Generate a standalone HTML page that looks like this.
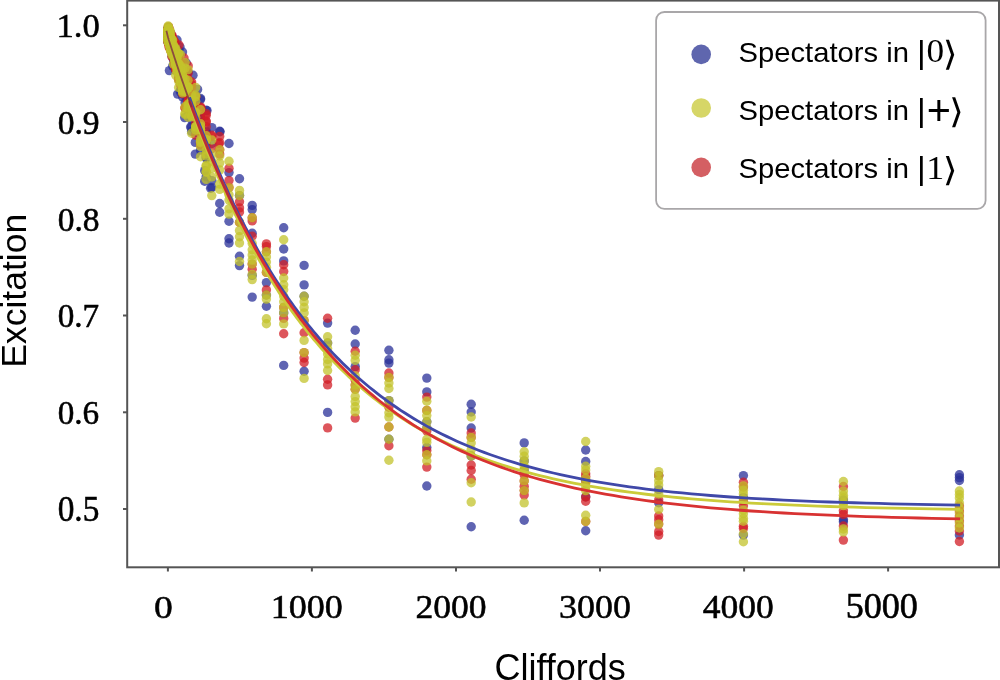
<!DOCTYPE html>
<html><head><meta charset="utf-8"><title>Excitation vs Cliffords</title>
<style>
html,body{margin:0;padding:0;background:#fff;}
body{width:1000px;height:680px;overflow:hidden;}
svg{display:block;}
</style></head><body>
<svg width="1000" height="680" viewBox="0 0 1000 680">
<rect x="0" y="0" width="1000" height="680" fill="#fff"/>
<g>

<g fill="#2a3098" fill-opacity="0.75">
<circle cx="168.0" cy="34.4" r="4.7"/>
<circle cx="168.0" cy="32.1" r="4.7"/>
<circle cx="168.0" cy="34.3" r="4.7"/>
<circle cx="168.0" cy="34.6" r="4.7"/>
<circle cx="168.0" cy="36.4" r="4.7"/>
<circle cx="168.0" cy="34.3" r="4.7"/>
<circle cx="168.0" cy="30.4" r="4.7"/>
<circle cx="168.0" cy="32.4" r="4.7"/>
<circle cx="168.0" cy="30.6" r="4.7"/>
<circle cx="168.0" cy="32.9" r="4.7"/>
<circle cx="168.0" cy="32.5" r="4.7"/>
<circle cx="168.1" cy="34.1" r="4.7"/>
<circle cx="168.1" cy="31.9" r="4.7"/>
<circle cx="168.1" cy="33.0" r="4.7"/>
<circle cx="168.1" cy="35.1" r="4.7"/>
<circle cx="168.1" cy="36.6" r="4.7"/>
<circle cx="168.1" cy="35.3" r="4.7"/>
<circle cx="168.1" cy="30.1" r="4.7"/>
<circle cx="168.1" cy="36.2" r="4.7"/>
<circle cx="168.1" cy="33.0" r="4.7"/>
<circle cx="168.1" cy="32.5" r="4.7"/>
<circle cx="168.1" cy="38.2" r="4.7"/>
<circle cx="168.1" cy="30.0" r="4.7"/>
<circle cx="168.1" cy="39.9" r="4.7"/>
<circle cx="168.1" cy="38.2" r="4.7"/>
<circle cx="168.1" cy="33.1" r="4.7"/>
<circle cx="168.1" cy="29.6" r="4.7"/>
<circle cx="168.1" cy="32.1" r="4.7"/>
<circle cx="168.1" cy="39.5" r="4.7"/>
<circle cx="168.1" cy="41.4" r="4.7"/>
<circle cx="168.1" cy="32.8" r="4.7"/>
<circle cx="168.1" cy="36.1" r="4.7"/>
<circle cx="168.1" cy="37.2" r="4.7"/>
<circle cx="168.1" cy="34.4" r="4.7"/>
<circle cx="168.1" cy="33.0" r="4.7"/>
<circle cx="168.1" cy="32.0" r="4.7"/>
<circle cx="168.1" cy="33.6" r="4.7"/>
<circle cx="168.1" cy="30.5" r="4.7"/>
<circle cx="168.1" cy="36.0" r="4.7"/>
<circle cx="168.1" cy="35.2" r="4.7"/>
<circle cx="168.1" cy="30.9" r="4.7"/>
<circle cx="168.1" cy="33.9" r="4.7"/>
<circle cx="168.1" cy="36.6" r="4.7"/>
<circle cx="168.1" cy="31.1" r="4.7"/>
<circle cx="168.2" cy="31.8" r="4.7"/>
<circle cx="168.2" cy="32.4" r="4.7"/>
<circle cx="168.2" cy="28.1" r="4.7"/>
<circle cx="168.2" cy="33.1" r="4.7"/>
<circle cx="168.2" cy="35.4" r="4.7"/>
<circle cx="168.2" cy="35.2" r="4.7"/>
<circle cx="168.2" cy="34.2" r="4.7"/>
<circle cx="168.2" cy="31.3" r="4.7"/>
<circle cx="168.2" cy="35.1" r="4.7"/>
<circle cx="168.2" cy="33.0" r="4.7"/>
<circle cx="168.2" cy="28.6" r="4.7"/>
<circle cx="168.2" cy="29.8" r="4.7"/>
<circle cx="168.2" cy="39.5" r="4.7"/>
<circle cx="168.2" cy="35.4" r="4.7"/>
<circle cx="168.2" cy="35.3" r="4.7"/>
<circle cx="168.2" cy="32.4" r="4.7"/>
<circle cx="168.2" cy="31.0" r="4.7"/>
<circle cx="168.2" cy="42.4" r="4.7"/>
<circle cx="168.2" cy="31.0" r="4.7"/>
<circle cx="168.2" cy="38.7" r="4.7"/>
<circle cx="168.2" cy="32.2" r="4.7"/>
<circle cx="168.2" cy="38.8" r="4.7"/>
<circle cx="168.3" cy="37.6" r="4.7"/>
<circle cx="168.3" cy="39.0" r="4.7"/>
<circle cx="168.3" cy="30.6" r="4.7"/>
<circle cx="168.3" cy="32.2" r="4.7"/>
<circle cx="168.3" cy="30.0" r="4.7"/>
<circle cx="168.3" cy="37.4" r="4.7"/>
<circle cx="168.3" cy="34.5" r="4.7"/>
<circle cx="168.3" cy="38.0" r="4.7"/>
<circle cx="168.3" cy="32.2" r="4.7"/>
<circle cx="168.3" cy="29.6" r="4.7"/>
<circle cx="168.3" cy="37.2" r="4.7"/>
<circle cx="168.3" cy="35.9" r="4.7"/>
<circle cx="168.3" cy="40.4" r="4.7"/>
<circle cx="168.3" cy="32.2" r="4.7"/>
<circle cx="168.3" cy="33.8" r="4.7"/>
<circle cx="168.3" cy="36.6" r="4.7"/>
<circle cx="168.3" cy="34.8" r="4.7"/>
<circle cx="168.3" cy="32.2" r="4.7"/>
<circle cx="168.3" cy="34.5" r="4.7"/>
<circle cx="168.3" cy="30.6" r="4.7"/>
<circle cx="168.3" cy="34.9" r="4.7"/>
<circle cx="168.3" cy="31.5" r="4.7"/>
<circle cx="168.4" cy="40.1" r="4.7"/>
<circle cx="168.4" cy="36.9" r="4.7"/>
<circle cx="168.4" cy="31.9" r="4.7"/>
<circle cx="168.4" cy="32.5" r="4.7"/>
<circle cx="168.4" cy="35.0" r="4.7"/>
<circle cx="168.4" cy="32.5" r="4.7"/>
<circle cx="168.4" cy="34.5" r="4.7"/>
<circle cx="168.4" cy="38.7" r="4.7"/>
<circle cx="168.4" cy="39.9" r="4.7"/>
<circle cx="168.4" cy="37.0" r="4.7"/>
<circle cx="168.4" cy="32.1" r="4.7"/>
<circle cx="168.5" cy="33.2" r="4.7"/>
<circle cx="168.5" cy="33.9" r="4.7"/>
<circle cx="168.5" cy="41.9" r="4.7"/>
<circle cx="168.5" cy="32.5" r="4.7"/>
<circle cx="168.5" cy="31.2" r="4.7"/>
<circle cx="168.5" cy="36.3" r="4.7"/>
<circle cx="168.5" cy="36.8" r="4.7"/>
<circle cx="168.5" cy="29.2" r="4.7"/>
<circle cx="168.5" cy="40.9" r="4.7"/>
<circle cx="168.5" cy="33.8" r="4.7"/>
<circle cx="168.5" cy="27.7" r="4.7"/>
<circle cx="168.6" cy="33.7" r="4.7"/>
<circle cx="168.6" cy="34.2" r="4.7"/>
<circle cx="168.6" cy="30.3" r="4.7"/>
<circle cx="168.6" cy="34.3" r="4.7"/>
<circle cx="168.6" cy="35.9" r="4.7"/>
<circle cx="168.6" cy="34.0" r="4.7"/>
<circle cx="168.6" cy="41.9" r="4.7"/>
<circle cx="168.6" cy="32.4" r="4.7"/>
<circle cx="168.6" cy="34.7" r="4.7"/>
<circle cx="168.6" cy="37.9" r="4.7"/>
<circle cx="168.6" cy="31.5" r="4.7"/>
<circle cx="168.7" cy="36.5" r="4.7"/>
<circle cx="168.7" cy="34.6" r="4.7"/>
<circle cx="168.7" cy="34.9" r="4.7"/>
<circle cx="168.7" cy="34.1" r="4.7"/>
<circle cx="168.7" cy="35.5" r="4.7"/>
<circle cx="168.7" cy="37.2" r="4.7"/>
<circle cx="168.7" cy="33.6" r="4.7"/>
<circle cx="168.7" cy="36.0" r="4.7"/>
<circle cx="168.7" cy="38.8" r="4.7"/>
<circle cx="168.7" cy="38.2" r="4.7"/>
<circle cx="168.7" cy="36.1" r="4.7"/>
<circle cx="168.9" cy="39.2" r="4.7"/>
<circle cx="168.9" cy="34.9" r="4.7"/>
<circle cx="168.9" cy="35.0" r="4.7"/>
<circle cx="168.9" cy="36.1" r="4.7"/>
<circle cx="168.9" cy="31.8" r="4.7"/>
<circle cx="168.9" cy="34.3" r="4.7"/>
<circle cx="168.9" cy="36.7" r="4.7"/>
<circle cx="168.9" cy="34.7" r="4.7"/>
<circle cx="168.9" cy="31.2" r="4.7"/>
<circle cx="168.9" cy="33.4" r="4.7"/>
<circle cx="168.9" cy="33.3" r="4.7"/>
<circle cx="169.0" cy="37.2" r="4.7"/>
<circle cx="169.0" cy="34.4" r="4.7"/>
<circle cx="169.0" cy="35.4" r="4.7"/>
<circle cx="169.0" cy="36.5" r="4.7"/>
<circle cx="169.0" cy="37.0" r="4.7"/>
<circle cx="169.0" cy="38.1" r="4.7"/>
<circle cx="169.0" cy="34.9" r="4.7"/>
<circle cx="169.0" cy="40.8" r="4.7"/>
<circle cx="169.0" cy="39.3" r="4.7"/>
<circle cx="169.0" cy="37.2" r="4.7"/>
<circle cx="169.0" cy="42.2" r="4.7"/>
<circle cx="169.2" cy="40.1" r="4.7"/>
<circle cx="169.2" cy="42.8" r="4.7"/>
<circle cx="169.2" cy="37.8" r="4.7"/>
<circle cx="169.2" cy="37.1" r="4.7"/>
<circle cx="169.2" cy="35.7" r="4.7"/>
<circle cx="169.2" cy="35.5" r="4.7"/>
<circle cx="169.2" cy="32.8" r="4.7"/>
<circle cx="169.2" cy="33.9" r="4.7"/>
<circle cx="169.2" cy="42.4" r="4.7"/>
<circle cx="169.2" cy="39.7" r="4.7"/>
<circle cx="169.2" cy="41.6" r="4.7"/>
<circle cx="169.5" cy="43.6" r="4.7"/>
<circle cx="169.5" cy="39.6" r="4.7"/>
<circle cx="169.5" cy="39.8" r="4.7"/>
<circle cx="169.5" cy="37.1" r="4.7"/>
<circle cx="169.5" cy="36.6" r="4.7"/>
<circle cx="169.5" cy="38.9" r="4.7"/>
<circle cx="169.5" cy="41.7" r="4.7"/>
<circle cx="169.5" cy="39.2" r="4.7"/>
<circle cx="169.5" cy="39.0" r="4.7"/>
<circle cx="169.5" cy="36.1" r="4.7"/>
<circle cx="169.5" cy="37.7" r="4.7"/>
<circle cx="169.7" cy="36.9" r="4.7"/>
<circle cx="169.7" cy="36.2" r="4.7"/>
<circle cx="169.7" cy="37.8" r="4.7"/>
<circle cx="169.7" cy="40.2" r="4.7"/>
<circle cx="169.7" cy="37.8" r="4.7"/>
<circle cx="169.7" cy="43.6" r="4.7"/>
<circle cx="169.7" cy="35.4" r="4.7"/>
<circle cx="169.7" cy="43.4" r="4.7"/>
<circle cx="169.7" cy="38.8" r="4.7"/>
<circle cx="169.7" cy="31.9" r="4.7"/>
<circle cx="169.7" cy="40.5" r="4.7"/>
<circle cx="170.1" cy="37.7" r="4.7"/>
<circle cx="170.1" cy="41.0" r="4.7"/>
<circle cx="170.1" cy="39.6" r="4.7"/>
<circle cx="170.1" cy="35.0" r="4.7"/>
<circle cx="170.1" cy="36.5" r="4.7"/>
<circle cx="170.1" cy="42.7" r="4.7"/>
<circle cx="170.1" cy="32.1" r="4.7"/>
<circle cx="170.1" cy="40.8" r="4.7"/>
<circle cx="170.1" cy="37.8" r="4.7"/>
<circle cx="170.1" cy="43.2" r="4.7"/>
<circle cx="170.1" cy="40.9" r="4.7"/>
<circle cx="170.4" cy="39.0" r="4.7"/>
<circle cx="170.4" cy="42.5" r="4.7"/>
<circle cx="170.4" cy="43.9" r="4.7"/>
<circle cx="170.4" cy="44.8" r="4.7"/>
<circle cx="170.4" cy="45.7" r="4.7"/>
<circle cx="170.4" cy="43.4" r="4.7"/>
<circle cx="170.4" cy="40.9" r="4.7"/>
<circle cx="170.4" cy="40.0" r="4.7"/>
<circle cx="170.4" cy="39.8" r="4.7"/>
<circle cx="170.4" cy="33.8" r="4.7"/>
<circle cx="170.4" cy="44.8" r="4.7"/>
<circle cx="170.9" cy="43.9" r="4.7"/>
<circle cx="170.9" cy="49.3" r="4.7"/>
<circle cx="170.9" cy="43.6" r="4.7"/>
<circle cx="170.9" cy="41.6" r="4.7"/>
<circle cx="170.9" cy="45.7" r="4.7"/>
<circle cx="170.9" cy="43.9" r="4.7"/>
<circle cx="170.9" cy="40.4" r="4.7"/>
<circle cx="170.9" cy="47.1" r="4.7"/>
<circle cx="170.9" cy="40.9" r="4.7"/>
<circle cx="170.9" cy="35.9" r="4.7"/>
<circle cx="170.9" cy="45.8" r="4.7"/>
<circle cx="171.4" cy="50.5" r="4.7"/>
<circle cx="171.4" cy="43.8" r="4.7"/>
<circle cx="171.4" cy="37.9" r="4.7"/>
<circle cx="171.4" cy="43.3" r="4.7"/>
<circle cx="171.4" cy="44.1" r="4.7"/>
<circle cx="171.4" cy="35.6" r="4.7"/>
<circle cx="171.4" cy="47.4" r="4.7"/>
<circle cx="171.4" cy="48.1" r="4.7"/>
<circle cx="171.4" cy="42.9" r="4.7"/>
<circle cx="171.4" cy="42.8" r="4.7"/>
<circle cx="171.4" cy="49.6" r="4.7"/>
<circle cx="172.0" cy="47.1" r="4.7"/>
<circle cx="172.0" cy="50.2" r="4.7"/>
<circle cx="172.0" cy="45.5" r="4.7"/>
<circle cx="172.0" cy="52.3" r="4.7"/>
<circle cx="172.0" cy="56.2" r="4.7"/>
<circle cx="172.0" cy="47.0" r="4.7"/>
<circle cx="172.0" cy="46.0" r="4.7"/>
<circle cx="172.0" cy="49.7" r="4.7"/>
<circle cx="172.0" cy="43.1" r="4.7"/>
<circle cx="172.0" cy="48.4" r="4.7"/>
<circle cx="172.0" cy="49.9" r="4.7"/>
<circle cx="172.7" cy="48.4" r="4.7"/>
<circle cx="172.7" cy="48.2" r="4.7"/>
<circle cx="172.7" cy="44.9" r="4.7"/>
<circle cx="172.7" cy="47.6" r="4.7"/>
<circle cx="172.7" cy="41.4" r="4.7"/>
<circle cx="172.7" cy="55.4" r="4.7"/>
<circle cx="172.7" cy="51.3" r="4.7"/>
<circle cx="172.7" cy="66.1" r="4.7"/>
<circle cx="172.7" cy="45.5" r="4.7"/>
<circle cx="172.7" cy="51.2" r="4.7"/>
<circle cx="172.7" cy="45.0" r="4.7"/>
<circle cx="173.5" cy="43.7" r="4.7"/>
<circle cx="173.5" cy="50.3" r="4.7"/>
<circle cx="173.5" cy="47.4" r="4.7"/>
<circle cx="173.5" cy="51.0" r="4.7"/>
<circle cx="173.5" cy="52.8" r="4.7"/>
<circle cx="173.5" cy="60.1" r="4.7"/>
<circle cx="173.5" cy="47.0" r="4.7"/>
<circle cx="173.5" cy="51.9" r="4.7"/>
<circle cx="173.5" cy="53.5" r="4.7"/>
<circle cx="173.5" cy="50.2" r="4.7"/>
<circle cx="173.5" cy="51.6" r="4.7"/>
<circle cx="174.5" cy="58.3" r="4.7"/>
<circle cx="174.5" cy="52.3" r="4.7"/>
<circle cx="174.5" cy="60.9" r="4.7"/>
<circle cx="174.5" cy="52.3" r="4.7"/>
<circle cx="174.5" cy="51.9" r="4.7"/>
<circle cx="174.5" cy="56.6" r="4.7"/>
<circle cx="174.5" cy="52.1" r="4.7"/>
<circle cx="174.5" cy="63.7" r="4.7"/>
<circle cx="174.5" cy="50.8" r="4.7"/>
<circle cx="174.5" cy="63.7" r="4.7"/>
<circle cx="174.5" cy="58.9" r="4.7"/>
<circle cx="175.7" cy="52.3" r="4.7"/>
<circle cx="175.7" cy="65.1" r="4.7"/>
<circle cx="175.7" cy="64.7" r="4.7"/>
<circle cx="175.7" cy="58.7" r="4.7"/>
<circle cx="175.7" cy="70.2" r="4.7"/>
<circle cx="175.7" cy="60.1" r="4.7"/>
<circle cx="175.7" cy="61.2" r="4.7"/>
<circle cx="175.7" cy="55.8" r="4.7"/>
<circle cx="175.7" cy="62.8" r="4.7"/>
<circle cx="175.7" cy="63.9" r="4.7"/>
<circle cx="175.7" cy="60.9" r="4.7"/>
<circle cx="177.0" cy="59.4" r="4.7"/>
<circle cx="177.0" cy="59.6" r="4.7"/>
<circle cx="177.0" cy="53.9" r="4.7"/>
<circle cx="177.0" cy="64.0" r="4.7"/>
<circle cx="177.0" cy="56.8" r="4.7"/>
<circle cx="177.0" cy="65.2" r="4.7"/>
<circle cx="177.0" cy="57.7" r="4.7"/>
<circle cx="177.0" cy="67.9" r="4.7"/>
<circle cx="177.0" cy="63.2" r="4.7"/>
<circle cx="177.0" cy="51.1" r="4.7"/>
<circle cx="177.0" cy="59.6" r="4.7"/>
<circle cx="178.6" cy="61.5" r="4.7"/>
<circle cx="178.6" cy="69.1" r="4.7"/>
<circle cx="178.6" cy="69.5" r="4.7"/>
<circle cx="178.6" cy="61.3" r="4.7"/>
<circle cx="178.6" cy="57.6" r="4.7"/>
<circle cx="178.6" cy="72.0" r="4.7"/>
<circle cx="178.6" cy="63.9" r="4.7"/>
<circle cx="178.6" cy="73.4" r="4.7"/>
<circle cx="178.6" cy="50.4" r="4.7"/>
<circle cx="178.6" cy="70.6" r="4.7"/>
<circle cx="178.6" cy="58.5" r="4.7"/>
<circle cx="180.4" cy="78.8" r="4.7"/>
<circle cx="180.4" cy="65.5" r="4.7"/>
<circle cx="180.4" cy="68.4" r="4.7"/>
<circle cx="180.4" cy="67.2" r="4.7"/>
<circle cx="180.4" cy="90.3" r="4.7"/>
<circle cx="180.4" cy="74.7" r="4.7"/>
<circle cx="180.4" cy="65.2" r="4.7"/>
<circle cx="180.4" cy="66.5" r="4.7"/>
<circle cx="180.4" cy="65.3" r="4.7"/>
<circle cx="180.4" cy="91.9" r="4.7"/>
<circle cx="180.4" cy="71.0" r="4.7"/>
<circle cx="182.6" cy="73.7" r="4.7"/>
<circle cx="182.6" cy="81.3" r="4.7"/>
<circle cx="182.6" cy="97.0" r="4.7"/>
<circle cx="182.6" cy="67.4" r="4.7"/>
<circle cx="182.6" cy="75.5" r="4.7"/>
<circle cx="182.6" cy="78.3" r="4.7"/>
<circle cx="182.6" cy="80.8" r="4.7"/>
<circle cx="182.6" cy="76.1" r="4.7"/>
<circle cx="182.6" cy="82.1" r="4.7"/>
<circle cx="182.6" cy="87.4" r="4.7"/>
<circle cx="182.6" cy="84.9" r="4.7"/>
<circle cx="185.1" cy="88.6" r="4.7"/>
<circle cx="185.1" cy="86.0" r="4.7"/>
<circle cx="185.1" cy="88.5" r="4.7"/>
<circle cx="185.1" cy="88.9" r="4.7"/>
<circle cx="185.1" cy="87.6" r="4.7"/>
<circle cx="185.1" cy="102.8" r="4.7"/>
<circle cx="185.1" cy="89.1" r="4.7"/>
<circle cx="185.1" cy="86.0" r="4.7"/>
<circle cx="185.1" cy="95.4" r="4.7"/>
<circle cx="185.1" cy="86.0" r="4.7"/>
<circle cx="185.1" cy="80.7" r="4.7"/>
<circle cx="188.1" cy="94.6" r="4.7"/>
<circle cx="188.1" cy="92.0" r="4.7"/>
<circle cx="188.1" cy="85.9" r="4.7"/>
<circle cx="188.1" cy="103.9" r="4.7"/>
<circle cx="188.1" cy="94.6" r="4.7"/>
<circle cx="188.1" cy="87.4" r="4.7"/>
<circle cx="188.1" cy="92.6" r="4.7"/>
<circle cx="188.1" cy="80.5" r="4.7"/>
<circle cx="188.1" cy="72.2" r="4.7"/>
<circle cx="188.1" cy="104.3" r="4.7"/>
<circle cx="188.1" cy="115.5" r="4.7"/>
<circle cx="191.6" cy="104.1" r="4.7"/>
<circle cx="191.6" cy="107.9" r="4.7"/>
<circle cx="191.6" cy="99.9" r="4.7"/>
<circle cx="191.6" cy="112.6" r="4.7"/>
<circle cx="191.6" cy="126.9" r="4.7"/>
<circle cx="191.6" cy="131.4" r="4.7"/>
<circle cx="191.6" cy="119.7" r="4.7"/>
<circle cx="191.6" cy="113.4" r="4.7"/>
<circle cx="191.6" cy="104.2" r="4.7"/>
<circle cx="191.6" cy="103.2" r="4.7"/>
<circle cx="191.6" cy="97.0" r="4.7"/>
<circle cx="195.7" cy="107.0" r="4.7"/>
<circle cx="195.7" cy="98.4" r="4.7"/>
<circle cx="195.7" cy="103.6" r="4.7"/>
<circle cx="195.7" cy="98.0" r="4.7"/>
<circle cx="195.7" cy="132.8" r="4.7"/>
<circle cx="195.7" cy="124.0" r="4.7"/>
<circle cx="195.7" cy="108.6" r="4.7"/>
<circle cx="195.7" cy="94.7" r="4.7"/>
<circle cx="195.7" cy="113.5" r="4.7"/>
<circle cx="195.7" cy="127.1" r="4.7"/>
<circle cx="195.7" cy="120.0" r="4.7"/>
<circle cx="200.5" cy="132.0" r="4.7"/>
<circle cx="200.5" cy="116.1" r="4.7"/>
<circle cx="200.5" cy="98.5" r="4.7"/>
<circle cx="200.5" cy="118.4" r="4.7"/>
<circle cx="200.5" cy="122.8" r="4.7"/>
<circle cx="200.5" cy="150.1" r="4.7"/>
<circle cx="200.5" cy="99.6" r="4.7"/>
<circle cx="200.5" cy="126.4" r="4.7"/>
<circle cx="200.5" cy="128.0" r="4.7"/>
<circle cx="200.5" cy="143.8" r="4.7"/>
<circle cx="200.5" cy="128.4" r="4.7"/>
<circle cx="206.2" cy="131.2" r="4.7"/>
<circle cx="206.2" cy="143.1" r="4.7"/>
<circle cx="206.2" cy="176.7" r="4.7"/>
<circle cx="206.2" cy="142.1" r="4.7"/>
<circle cx="206.2" cy="154.7" r="4.7"/>
<circle cx="206.2" cy="132.3" r="4.7"/>
<circle cx="206.2" cy="150.6" r="4.7"/>
<circle cx="206.2" cy="139.6" r="4.7"/>
<circle cx="206.2" cy="110.2" r="4.7"/>
<circle cx="206.2" cy="157.0" r="4.7"/>
<circle cx="206.2" cy="158.1" r="4.7"/>
<circle cx="169.4" cy="70.6" r="4.7"/>
<circle cx="177.6" cy="94.1" r="4.7"/>
<circle cx="184.7" cy="117.6" r="4.7"/>
<circle cx="190.6" cy="127.0" r="4.7"/>
<circle cx="195.3" cy="142.4" r="4.7"/>
<circle cx="195.3" cy="154.1" r="4.7"/>
<circle cx="204.7" cy="170.6" r="4.7"/>
<circle cx="204.7" cy="181.2" r="4.7"/>
<circle cx="210.6" cy="188.2" r="4.7"/>
<circle cx="180.0" cy="47.0" r="4.7"/>
<circle cx="193.0" cy="75.3" r="4.7"/>
<circle cx="197.6" cy="89.4" r="4.7"/>
<circle cx="207.0" cy="110.6" r="4.7"/>
<circle cx="220.0" cy="131.8" r="4.7"/>
<circle cx="177.0" cy="40.0" r="4.7"/>
<circle cx="182.5" cy="52.0" r="4.7"/>
<circle cx="186.3" cy="63.0" r="4.7"/>
<circle cx="959.4" cy="474.7" r="4.7"/>
<circle cx="959.4" cy="477.6" r="4.7"/>
<circle cx="959.4" cy="480.5" r="4.7"/>
<circle cx="959.4" cy="535.0" r="4.7"/>
<circle cx="843.4" cy="500.0" r="4.7"/>
<circle cx="843.4" cy="519.6" r="4.7"/>
<circle cx="843.4" cy="521.8" r="4.7"/>
<circle cx="743.4" cy="475.6" r="4.7"/>
<circle cx="743.4" cy="497.6" r="4.7"/>
<circle cx="743.4" cy="535.1" r="4.7"/>
<circle cx="658.7" cy="475.6" r="4.7"/>
<circle cx="658.7" cy="489.6" r="4.7"/>
<circle cx="658.7" cy="502.8" r="4.7"/>
<circle cx="585.7" cy="450.0" r="4.7"/>
<circle cx="585.7" cy="461.5" r="4.7"/>
<circle cx="585.7" cy="480.0" r="4.7"/>
<circle cx="585.7" cy="496.8" r="4.7"/>
<circle cx="585.7" cy="530.8" r="4.7"/>
<circle cx="524.2" cy="442.9" r="4.7"/>
<circle cx="524.2" cy="460.9" r="4.7"/>
<circle cx="524.2" cy="470.0" r="4.7"/>
<circle cx="524.2" cy="520.2" r="4.7"/>
<circle cx="471.2" cy="404.3" r="4.7"/>
<circle cx="471.2" cy="412.0" r="4.7"/>
<circle cx="471.2" cy="428.0" r="4.7"/>
<circle cx="471.2" cy="456.0" r="4.7"/>
<circle cx="471.2" cy="526.8" r="4.7"/>
<circle cx="426.8" cy="378.1" r="4.7"/>
<circle cx="426.8" cy="391.9" r="4.7"/>
<circle cx="426.8" cy="421.8" r="4.7"/>
<circle cx="426.8" cy="428.0" r="4.7"/>
<circle cx="426.8" cy="447.5" r="4.7"/>
<circle cx="426.8" cy="486.0" r="4.7"/>
<circle cx="388.9" cy="350.3" r="4.7"/>
<circle cx="388.9" cy="359.8" r="4.7"/>
<circle cx="388.9" cy="363.1" r="4.7"/>
<circle cx="388.9" cy="400.6" r="4.7"/>
<circle cx="388.9" cy="439.2" r="4.7"/>
<circle cx="355.2" cy="330.2" r="4.7"/>
<circle cx="355.2" cy="344.0" r="4.7"/>
<circle cx="355.2" cy="366.6" r="4.7"/>
<circle cx="327.6" cy="323.1" r="4.7"/>
<circle cx="327.6" cy="343.0" r="4.7"/>
<circle cx="327.6" cy="412.4" r="4.7"/>
<circle cx="304.1" cy="265.4" r="4.7"/>
<circle cx="304.1" cy="284.9" r="4.7"/>
<circle cx="304.1" cy="296.3" r="4.7"/>
<circle cx="304.1" cy="371.3" r="4.7"/>
<circle cx="283.7" cy="227.8" r="4.7"/>
<circle cx="283.7" cy="249.0" r="4.7"/>
<circle cx="283.7" cy="260.9" r="4.7"/>
<circle cx="283.7" cy="312.9" r="4.7"/>
<circle cx="283.7" cy="365.4" r="4.7"/>
<circle cx="266.4" cy="282.6" r="4.7"/>
<circle cx="266.4" cy="295.0" r="4.7"/>
<circle cx="266.4" cy="306.3" r="4.7"/>
<circle cx="252.2" cy="205.4" r="4.7"/>
<circle cx="252.2" cy="209.6" r="4.7"/>
<circle cx="252.2" cy="233.2" r="4.7"/>
<circle cx="252.2" cy="275.4" r="4.7"/>
<circle cx="252.2" cy="297.1" r="4.7"/>
<circle cx="239.5" cy="178.7" r="4.7"/>
<circle cx="239.5" cy="195.6" r="4.7"/>
<circle cx="239.5" cy="256.3" r="4.7"/>
<circle cx="239.5" cy="265.6" r="4.7"/>
<circle cx="229.0" cy="143.5" r="4.7"/>
<circle cx="229.0" cy="172.6" r="4.7"/>
<circle cx="229.0" cy="221.2" r="4.7"/>
<circle cx="229.0" cy="238.8" r="4.7"/>
<circle cx="229.0" cy="243.0" r="4.7"/>
<circle cx="219.7" cy="131.2" r="4.7"/>
<circle cx="219.7" cy="203.5" r="4.7"/>
<circle cx="219.7" cy="212.3" r="4.7"/>
<circle cx="211.8" cy="127.6" r="4.7"/>
<circle cx="211.8" cy="143.5" r="4.7"/>
<circle cx="211.8" cy="180.6" r="4.7"/>
<circle cx="211.8" cy="187.6" r="4.7"/>
</g>
<g fill="#d21e26" fill-opacity="0.75">
<circle cx="168.0" cy="32.1" r="4.7"/>
<circle cx="168.0" cy="35.6" r="4.7"/>
<circle cx="168.0" cy="32.7" r="4.7"/>
<circle cx="168.0" cy="32.5" r="4.7"/>
<circle cx="168.0" cy="35.6" r="4.7"/>
<circle cx="168.0" cy="28.6" r="4.7"/>
<circle cx="168.0" cy="32.0" r="4.7"/>
<circle cx="168.0" cy="30.1" r="4.7"/>
<circle cx="168.0" cy="35.5" r="4.7"/>
<circle cx="168.0" cy="35.8" r="4.7"/>
<circle cx="168.0" cy="34.7" r="4.7"/>
<circle cx="168.1" cy="30.9" r="4.7"/>
<circle cx="168.1" cy="29.5" r="4.7"/>
<circle cx="168.1" cy="32.7" r="4.7"/>
<circle cx="168.1" cy="33.4" r="4.7"/>
<circle cx="168.1" cy="37.6" r="4.7"/>
<circle cx="168.1" cy="31.9" r="4.7"/>
<circle cx="168.1" cy="35.6" r="4.7"/>
<circle cx="168.1" cy="35.1" r="4.7"/>
<circle cx="168.1" cy="37.5" r="4.7"/>
<circle cx="168.1" cy="36.6" r="4.7"/>
<circle cx="168.1" cy="35.3" r="4.7"/>
<circle cx="168.1" cy="31.0" r="4.7"/>
<circle cx="168.1" cy="32.3" r="4.7"/>
<circle cx="168.1" cy="39.7" r="4.7"/>
<circle cx="168.1" cy="35.7" r="4.7"/>
<circle cx="168.1" cy="31.3" r="4.7"/>
<circle cx="168.1" cy="39.3" r="4.7"/>
<circle cx="168.1" cy="34.4" r="4.7"/>
<circle cx="168.1" cy="30.8" r="4.7"/>
<circle cx="168.1" cy="37.8" r="4.7"/>
<circle cx="168.1" cy="29.1" r="4.7"/>
<circle cx="168.1" cy="32.2" r="4.7"/>
<circle cx="168.1" cy="32.1" r="4.7"/>
<circle cx="168.1" cy="30.6" r="4.7"/>
<circle cx="168.1" cy="31.4" r="4.7"/>
<circle cx="168.1" cy="32.9" r="4.7"/>
<circle cx="168.1" cy="33.6" r="4.7"/>
<circle cx="168.1" cy="33.5" r="4.7"/>
<circle cx="168.1" cy="32.3" r="4.7"/>
<circle cx="168.1" cy="34.5" r="4.7"/>
<circle cx="168.1" cy="33.2" r="4.7"/>
<circle cx="168.1" cy="32.3" r="4.7"/>
<circle cx="168.1" cy="34.0" r="4.7"/>
<circle cx="168.2" cy="35.8" r="4.7"/>
<circle cx="168.2" cy="34.4" r="4.7"/>
<circle cx="168.2" cy="34.8" r="4.7"/>
<circle cx="168.2" cy="34.3" r="4.7"/>
<circle cx="168.2" cy="42.3" r="4.7"/>
<circle cx="168.2" cy="35.6" r="4.7"/>
<circle cx="168.2" cy="31.1" r="4.7"/>
<circle cx="168.2" cy="37.6" r="4.7"/>
<circle cx="168.2" cy="34.3" r="4.7"/>
<circle cx="168.2" cy="31.3" r="4.7"/>
<circle cx="168.2" cy="31.5" r="4.7"/>
<circle cx="168.2" cy="37.8" r="4.7"/>
<circle cx="168.2" cy="31.5" r="4.7"/>
<circle cx="168.2" cy="35.1" r="4.7"/>
<circle cx="168.2" cy="33.9" r="4.7"/>
<circle cx="168.2" cy="32.2" r="4.7"/>
<circle cx="168.2" cy="33.6" r="4.7"/>
<circle cx="168.2" cy="32.4" r="4.7"/>
<circle cx="168.2" cy="38.9" r="4.7"/>
<circle cx="168.2" cy="38.9" r="4.7"/>
<circle cx="168.2" cy="32.4" r="4.7"/>
<circle cx="168.2" cy="37.2" r="4.7"/>
<circle cx="168.3" cy="31.0" r="4.7"/>
<circle cx="168.3" cy="30.0" r="4.7"/>
<circle cx="168.3" cy="30.1" r="4.7"/>
<circle cx="168.3" cy="35.0" r="4.7"/>
<circle cx="168.3" cy="36.8" r="4.7"/>
<circle cx="168.3" cy="31.4" r="4.7"/>
<circle cx="168.3" cy="34.1" r="4.7"/>
<circle cx="168.3" cy="34.1" r="4.7"/>
<circle cx="168.3" cy="30.1" r="4.7"/>
<circle cx="168.3" cy="35.3" r="4.7"/>
<circle cx="168.3" cy="41.5" r="4.7"/>
<circle cx="168.3" cy="34.8" r="4.7"/>
<circle cx="168.3" cy="36.6" r="4.7"/>
<circle cx="168.3" cy="34.0" r="4.7"/>
<circle cx="168.3" cy="29.2" r="4.7"/>
<circle cx="168.3" cy="34.6" r="4.7"/>
<circle cx="168.3" cy="33.1" r="4.7"/>
<circle cx="168.3" cy="31.6" r="4.7"/>
<circle cx="168.3" cy="35.3" r="4.7"/>
<circle cx="168.3" cy="38.6" r="4.7"/>
<circle cx="168.3" cy="36.4" r="4.7"/>
<circle cx="168.3" cy="31.4" r="4.7"/>
<circle cx="168.4" cy="32.7" r="4.7"/>
<circle cx="168.4" cy="35.9" r="4.7"/>
<circle cx="168.4" cy="41.9" r="4.7"/>
<circle cx="168.4" cy="37.7" r="4.7"/>
<circle cx="168.4" cy="34.1" r="4.7"/>
<circle cx="168.4" cy="36.4" r="4.7"/>
<circle cx="168.4" cy="32.6" r="4.7"/>
<circle cx="168.4" cy="32.7" r="4.7"/>
<circle cx="168.4" cy="32.9" r="4.7"/>
<circle cx="168.4" cy="34.0" r="4.7"/>
<circle cx="168.4" cy="30.9" r="4.7"/>
<circle cx="168.5" cy="35.9" r="4.7"/>
<circle cx="168.5" cy="38.5" r="4.7"/>
<circle cx="168.5" cy="36.5" r="4.7"/>
<circle cx="168.5" cy="32.5" r="4.7"/>
<circle cx="168.5" cy="35.0" r="4.7"/>
<circle cx="168.5" cy="38.0" r="4.7"/>
<circle cx="168.5" cy="38.0" r="4.7"/>
<circle cx="168.5" cy="26.9" r="4.7"/>
<circle cx="168.5" cy="31.7" r="4.7"/>
<circle cx="168.5" cy="33.3" r="4.7"/>
<circle cx="168.5" cy="43.5" r="4.7"/>
<circle cx="168.6" cy="30.3" r="4.7"/>
<circle cx="168.6" cy="32.5" r="4.7"/>
<circle cx="168.6" cy="29.9" r="4.7"/>
<circle cx="168.6" cy="33.1" r="4.7"/>
<circle cx="168.6" cy="38.5" r="4.7"/>
<circle cx="168.6" cy="34.9" r="4.7"/>
<circle cx="168.6" cy="42.6" r="4.7"/>
<circle cx="168.6" cy="38.1" r="4.7"/>
<circle cx="168.6" cy="35.9" r="4.7"/>
<circle cx="168.6" cy="34.0" r="4.7"/>
<circle cx="168.6" cy="38.0" r="4.7"/>
<circle cx="168.7" cy="39.3" r="4.7"/>
<circle cx="168.7" cy="42.3" r="4.7"/>
<circle cx="168.7" cy="35.9" r="4.7"/>
<circle cx="168.7" cy="39.1" r="4.7"/>
<circle cx="168.7" cy="33.7" r="4.7"/>
<circle cx="168.7" cy="39.6" r="4.7"/>
<circle cx="168.7" cy="44.6" r="4.7"/>
<circle cx="168.7" cy="39.5" r="4.7"/>
<circle cx="168.7" cy="31.0" r="4.7"/>
<circle cx="168.7" cy="37.4" r="4.7"/>
<circle cx="168.7" cy="40.6" r="4.7"/>
<circle cx="168.9" cy="36.3" r="4.7"/>
<circle cx="168.9" cy="28.1" r="4.7"/>
<circle cx="168.9" cy="37.8" r="4.7"/>
<circle cx="168.9" cy="33.8" r="4.7"/>
<circle cx="168.9" cy="33.4" r="4.7"/>
<circle cx="168.9" cy="36.6" r="4.7"/>
<circle cx="168.9" cy="40.5" r="4.7"/>
<circle cx="168.9" cy="36.0" r="4.7"/>
<circle cx="168.9" cy="35.5" r="4.7"/>
<circle cx="168.9" cy="32.9" r="4.7"/>
<circle cx="168.9" cy="34.1" r="4.7"/>
<circle cx="169.0" cy="40.2" r="4.7"/>
<circle cx="169.0" cy="37.9" r="4.7"/>
<circle cx="169.0" cy="43.4" r="4.7"/>
<circle cx="169.0" cy="34.6" r="4.7"/>
<circle cx="169.0" cy="34.1" r="4.7"/>
<circle cx="169.0" cy="43.6" r="4.7"/>
<circle cx="169.0" cy="37.4" r="4.7"/>
<circle cx="169.0" cy="35.1" r="4.7"/>
<circle cx="169.0" cy="43.2" r="4.7"/>
<circle cx="169.0" cy="43.4" r="4.7"/>
<circle cx="169.0" cy="40.8" r="4.7"/>
<circle cx="169.2" cy="35.5" r="4.7"/>
<circle cx="169.2" cy="36.7" r="4.7"/>
<circle cx="169.2" cy="38.2" r="4.7"/>
<circle cx="169.2" cy="40.2" r="4.7"/>
<circle cx="169.2" cy="38.5" r="4.7"/>
<circle cx="169.2" cy="47.3" r="4.7"/>
<circle cx="169.2" cy="41.3" r="4.7"/>
<circle cx="169.2" cy="37.8" r="4.7"/>
<circle cx="169.2" cy="43.1" r="4.7"/>
<circle cx="169.2" cy="37.2" r="4.7"/>
<circle cx="169.2" cy="37.4" r="4.7"/>
<circle cx="169.5" cy="39.9" r="4.7"/>
<circle cx="169.5" cy="34.8" r="4.7"/>
<circle cx="169.5" cy="38.3" r="4.7"/>
<circle cx="169.5" cy="34.8" r="4.7"/>
<circle cx="169.5" cy="47.1" r="4.7"/>
<circle cx="169.5" cy="41.4" r="4.7"/>
<circle cx="169.5" cy="37.9" r="4.7"/>
<circle cx="169.5" cy="36.6" r="4.7"/>
<circle cx="169.5" cy="30.5" r="4.7"/>
<circle cx="169.5" cy="37.6" r="4.7"/>
<circle cx="169.5" cy="34.2" r="4.7"/>
<circle cx="169.7" cy="38.7" r="4.7"/>
<circle cx="169.7" cy="41.2" r="4.7"/>
<circle cx="169.7" cy="34.5" r="4.7"/>
<circle cx="169.7" cy="42.2" r="4.7"/>
<circle cx="169.7" cy="37.2" r="4.7"/>
<circle cx="169.7" cy="41.4" r="4.7"/>
<circle cx="169.7" cy="42.2" r="4.7"/>
<circle cx="169.7" cy="37.1" r="4.7"/>
<circle cx="169.7" cy="34.8" r="4.7"/>
<circle cx="169.7" cy="39.7" r="4.7"/>
<circle cx="169.7" cy="42.1" r="4.7"/>
<circle cx="170.1" cy="44.9" r="4.7"/>
<circle cx="170.1" cy="40.7" r="4.7"/>
<circle cx="170.1" cy="46.2" r="4.7"/>
<circle cx="170.1" cy="41.0" r="4.7"/>
<circle cx="170.1" cy="39.6" r="4.7"/>
<circle cx="170.1" cy="39.0" r="4.7"/>
<circle cx="170.1" cy="41.6" r="4.7"/>
<circle cx="170.1" cy="44.2" r="4.7"/>
<circle cx="170.1" cy="40.2" r="4.7"/>
<circle cx="170.1" cy="42.6" r="4.7"/>
<circle cx="170.1" cy="34.9" r="4.7"/>
<circle cx="170.4" cy="49.5" r="4.7"/>
<circle cx="170.4" cy="45.5" r="4.7"/>
<circle cx="170.4" cy="42.0" r="4.7"/>
<circle cx="170.4" cy="46.1" r="4.7"/>
<circle cx="170.4" cy="46.1" r="4.7"/>
<circle cx="170.4" cy="39.6" r="4.7"/>
<circle cx="170.4" cy="44.6" r="4.7"/>
<circle cx="170.4" cy="39.5" r="4.7"/>
<circle cx="170.4" cy="39.1" r="4.7"/>
<circle cx="170.4" cy="40.8" r="4.7"/>
<circle cx="170.4" cy="40.0" r="4.7"/>
<circle cx="170.9" cy="50.7" r="4.7"/>
<circle cx="170.9" cy="40.4" r="4.7"/>
<circle cx="170.9" cy="44.0" r="4.7"/>
<circle cx="170.9" cy="41.7" r="4.7"/>
<circle cx="170.9" cy="42.0" r="4.7"/>
<circle cx="170.9" cy="49.7" r="4.7"/>
<circle cx="170.9" cy="44.4" r="4.7"/>
<circle cx="170.9" cy="37.4" r="4.7"/>
<circle cx="170.9" cy="45.9" r="4.7"/>
<circle cx="170.9" cy="47.7" r="4.7"/>
<circle cx="170.9" cy="49.1" r="4.7"/>
<circle cx="171.4" cy="39.2" r="4.7"/>
<circle cx="171.4" cy="46.8" r="4.7"/>
<circle cx="171.4" cy="41.6" r="4.7"/>
<circle cx="171.4" cy="48.5" r="4.7"/>
<circle cx="171.4" cy="44.9" r="4.7"/>
<circle cx="171.4" cy="42.0" r="4.7"/>
<circle cx="171.4" cy="38.7" r="4.7"/>
<circle cx="171.4" cy="46.8" r="4.7"/>
<circle cx="171.4" cy="45.5" r="4.7"/>
<circle cx="171.4" cy="44.4" r="4.7"/>
<circle cx="171.4" cy="51.7" r="4.7"/>
<circle cx="172.0" cy="36.4" r="4.7"/>
<circle cx="172.0" cy="50.1" r="4.7"/>
<circle cx="172.0" cy="47.1" r="4.7"/>
<circle cx="172.0" cy="46.4" r="4.7"/>
<circle cx="172.0" cy="42.5" r="4.7"/>
<circle cx="172.0" cy="52.8" r="4.7"/>
<circle cx="172.0" cy="56.7" r="4.7"/>
<circle cx="172.0" cy="44.4" r="4.7"/>
<circle cx="172.0" cy="43.5" r="4.7"/>
<circle cx="172.0" cy="44.3" r="4.7"/>
<circle cx="172.0" cy="35.2" r="4.7"/>
<circle cx="172.7" cy="47.0" r="4.7"/>
<circle cx="172.7" cy="50.1" r="4.7"/>
<circle cx="172.7" cy="46.2" r="4.7"/>
<circle cx="172.7" cy="50.2" r="4.7"/>
<circle cx="172.7" cy="55.0" r="4.7"/>
<circle cx="172.7" cy="42.4" r="4.7"/>
<circle cx="172.7" cy="47.2" r="4.7"/>
<circle cx="172.7" cy="54.1" r="4.7"/>
<circle cx="172.7" cy="44.2" r="4.7"/>
<circle cx="172.7" cy="47.8" r="4.7"/>
<circle cx="172.7" cy="57.0" r="4.7"/>
<circle cx="173.5" cy="48.3" r="4.7"/>
<circle cx="173.5" cy="43.4" r="4.7"/>
<circle cx="173.5" cy="51.8" r="4.7"/>
<circle cx="173.5" cy="45.7" r="4.7"/>
<circle cx="173.5" cy="55.7" r="4.7"/>
<circle cx="173.5" cy="51.0" r="4.7"/>
<circle cx="173.5" cy="52.5" r="4.7"/>
<circle cx="173.5" cy="51.5" r="4.7"/>
<circle cx="173.5" cy="46.2" r="4.7"/>
<circle cx="173.5" cy="39.7" r="4.7"/>
<circle cx="173.5" cy="55.5" r="4.7"/>
<circle cx="174.5" cy="62.2" r="4.7"/>
<circle cx="174.5" cy="41.2" r="4.7"/>
<circle cx="174.5" cy="42.8" r="4.7"/>
<circle cx="174.5" cy="66.1" r="4.7"/>
<circle cx="174.5" cy="55.3" r="4.7"/>
<circle cx="174.5" cy="52.7" r="4.7"/>
<circle cx="174.5" cy="49.7" r="4.7"/>
<circle cx="174.5" cy="51.3" r="4.7"/>
<circle cx="174.5" cy="56.6" r="4.7"/>
<circle cx="174.5" cy="60.9" r="4.7"/>
<circle cx="174.5" cy="54.5" r="4.7"/>
<circle cx="175.7" cy="58.7" r="4.7"/>
<circle cx="175.7" cy="55.4" r="4.7"/>
<circle cx="175.7" cy="66.7" r="4.7"/>
<circle cx="175.7" cy="55.7" r="4.7"/>
<circle cx="175.7" cy="58.7" r="4.7"/>
<circle cx="175.7" cy="69.5" r="4.7"/>
<circle cx="175.7" cy="56.8" r="4.7"/>
<circle cx="175.7" cy="51.3" r="4.7"/>
<circle cx="175.7" cy="69.8" r="4.7"/>
<circle cx="175.7" cy="53.7" r="4.7"/>
<circle cx="175.7" cy="57.3" r="4.7"/>
<circle cx="177.0" cy="56.7" r="4.7"/>
<circle cx="177.0" cy="62.1" r="4.7"/>
<circle cx="177.0" cy="64.3" r="4.7"/>
<circle cx="177.0" cy="66.3" r="4.7"/>
<circle cx="177.0" cy="64.2" r="4.7"/>
<circle cx="177.0" cy="58.4" r="4.7"/>
<circle cx="177.0" cy="60.2" r="4.7"/>
<circle cx="177.0" cy="70.5" r="4.7"/>
<circle cx="177.0" cy="59.7" r="4.7"/>
<circle cx="177.0" cy="61.3" r="4.7"/>
<circle cx="177.0" cy="69.1" r="4.7"/>
<circle cx="178.6" cy="60.9" r="4.7"/>
<circle cx="178.6" cy="79.5" r="4.7"/>
<circle cx="178.6" cy="58.8" r="4.7"/>
<circle cx="178.6" cy="71.2" r="4.7"/>
<circle cx="178.6" cy="66.0" r="4.7"/>
<circle cx="178.6" cy="58.0" r="4.7"/>
<circle cx="178.6" cy="66.2" r="4.7"/>
<circle cx="178.6" cy="77.1" r="4.7"/>
<circle cx="178.6" cy="79.3" r="4.7"/>
<circle cx="178.6" cy="58.6" r="4.7"/>
<circle cx="178.6" cy="61.7" r="4.7"/>
<circle cx="180.4" cy="71.1" r="4.7"/>
<circle cx="180.4" cy="77.8" r="4.7"/>
<circle cx="180.4" cy="85.0" r="4.7"/>
<circle cx="180.4" cy="63.6" r="4.7"/>
<circle cx="180.4" cy="69.9" r="4.7"/>
<circle cx="180.4" cy="76.8" r="4.7"/>
<circle cx="180.4" cy="70.7" r="4.7"/>
<circle cx="180.4" cy="64.5" r="4.7"/>
<circle cx="180.4" cy="80.1" r="4.7"/>
<circle cx="180.4" cy="73.2" r="4.7"/>
<circle cx="180.4" cy="68.0" r="4.7"/>
<circle cx="182.6" cy="78.0" r="4.7"/>
<circle cx="182.6" cy="77.1" r="4.7"/>
<circle cx="182.6" cy="93.7" r="4.7"/>
<circle cx="182.6" cy="83.8" r="4.7"/>
<circle cx="182.6" cy="77.0" r="4.7"/>
<circle cx="182.6" cy="82.5" r="4.7"/>
<circle cx="182.6" cy="77.7" r="4.7"/>
<circle cx="182.6" cy="71.9" r="4.7"/>
<circle cx="182.6" cy="71.6" r="4.7"/>
<circle cx="182.6" cy="70.4" r="4.7"/>
<circle cx="182.6" cy="73.2" r="4.7"/>
<circle cx="185.1" cy="80.3" r="4.7"/>
<circle cx="185.1" cy="107.9" r="4.7"/>
<circle cx="185.1" cy="77.4" r="4.7"/>
<circle cx="185.1" cy="82.1" r="4.7"/>
<circle cx="185.1" cy="85.6" r="4.7"/>
<circle cx="185.1" cy="91.6" r="4.7"/>
<circle cx="185.1" cy="79.5" r="4.7"/>
<circle cx="185.1" cy="90.6" r="4.7"/>
<circle cx="185.1" cy="83.6" r="4.7"/>
<circle cx="185.1" cy="90.8" r="4.7"/>
<circle cx="185.1" cy="107.9" r="4.7"/>
<circle cx="188.1" cy="73.0" r="4.7"/>
<circle cx="188.1" cy="101.8" r="4.7"/>
<circle cx="188.1" cy="102.3" r="4.7"/>
<circle cx="188.1" cy="91.7" r="4.7"/>
<circle cx="188.1" cy="102.5" r="4.7"/>
<circle cx="188.1" cy="79.8" r="4.7"/>
<circle cx="188.1" cy="95.1" r="4.7"/>
<circle cx="188.1" cy="106.3" r="4.7"/>
<circle cx="188.1" cy="79.8" r="4.7"/>
<circle cx="188.1" cy="100.7" r="4.7"/>
<circle cx="188.1" cy="91.8" r="4.7"/>
<circle cx="191.6" cy="94.7" r="4.7"/>
<circle cx="191.6" cy="96.7" r="4.7"/>
<circle cx="191.6" cy="101.3" r="4.7"/>
<circle cx="191.6" cy="87.7" r="4.7"/>
<circle cx="191.6" cy="111.1" r="4.7"/>
<circle cx="191.6" cy="108.4" r="4.7"/>
<circle cx="191.6" cy="114.0" r="4.7"/>
<circle cx="191.6" cy="113.9" r="4.7"/>
<circle cx="191.6" cy="84.5" r="4.7"/>
<circle cx="191.6" cy="82.0" r="4.7"/>
<circle cx="191.6" cy="103.6" r="4.7"/>
<circle cx="195.7" cy="106.2" r="4.7"/>
<circle cx="195.7" cy="97.2" r="4.7"/>
<circle cx="195.7" cy="113.6" r="4.7"/>
<circle cx="195.7" cy="107.7" r="4.7"/>
<circle cx="195.7" cy="117.8" r="4.7"/>
<circle cx="195.7" cy="109.0" r="4.7"/>
<circle cx="195.7" cy="96.6" r="4.7"/>
<circle cx="195.7" cy="135.2" r="4.7"/>
<circle cx="195.7" cy="115.9" r="4.7"/>
<circle cx="195.7" cy="111.6" r="4.7"/>
<circle cx="195.7" cy="123.0" r="4.7"/>
<circle cx="200.5" cy="142.2" r="4.7"/>
<circle cx="200.5" cy="132.7" r="4.7"/>
<circle cx="200.5" cy="123.3" r="4.7"/>
<circle cx="200.5" cy="144.7" r="4.7"/>
<circle cx="200.5" cy="129.6" r="4.7"/>
<circle cx="200.5" cy="106.9" r="4.7"/>
<circle cx="200.5" cy="117.6" r="4.7"/>
<circle cx="200.5" cy="129.8" r="4.7"/>
<circle cx="200.5" cy="125.7" r="4.7"/>
<circle cx="200.5" cy="129.3" r="4.7"/>
<circle cx="200.5" cy="128.2" r="4.7"/>
<circle cx="206.2" cy="122.1" r="4.7"/>
<circle cx="206.2" cy="113.6" r="4.7"/>
<circle cx="206.2" cy="126.8" r="4.7"/>
<circle cx="206.2" cy="139.7" r="4.7"/>
<circle cx="206.2" cy="139.1" r="4.7"/>
<circle cx="206.2" cy="115.6" r="4.7"/>
<circle cx="206.2" cy="121.1" r="4.7"/>
<circle cx="206.2" cy="146.3" r="4.7"/>
<circle cx="206.2" cy="135.1" r="4.7"/>
<circle cx="206.2" cy="137.6" r="4.7"/>
<circle cx="206.2" cy="141.0" r="4.7"/>
<circle cx="188.2" cy="65.9" r="4.7"/>
<circle cx="201.2" cy="108.2" r="4.7"/>
<circle cx="211.8" cy="135.3" r="4.7"/>
<circle cx="218.8" cy="143.5" r="4.7"/>
<circle cx="179.0" cy="45.0" r="4.7"/>
<circle cx="184.0" cy="58.0" r="4.7"/>
<circle cx="959.4" cy="506.0" r="4.7"/>
<circle cx="959.4" cy="511.0" r="4.7"/>
<circle cx="959.4" cy="516.0" r="4.7"/>
<circle cx="959.4" cy="521.0" r="4.7"/>
<circle cx="959.4" cy="526.0" r="4.7"/>
<circle cx="959.4" cy="531.0" r="4.7"/>
<circle cx="959.4" cy="541.5" r="4.7"/>
<circle cx="843.4" cy="486.5" r="4.7"/>
<circle cx="843.4" cy="510.7" r="4.7"/>
<circle cx="843.4" cy="514.4" r="4.7"/>
<circle cx="843.4" cy="526.0" r="4.7"/>
<circle cx="843.4" cy="540.1" r="4.7"/>
<circle cx="743.4" cy="482.2" r="4.7"/>
<circle cx="743.4" cy="487.0" r="4.7"/>
<circle cx="743.4" cy="501.3" r="4.7"/>
<circle cx="743.4" cy="505.7" r="4.7"/>
<circle cx="743.4" cy="526.3" r="4.7"/>
<circle cx="743.4" cy="528.5" r="4.7"/>
<circle cx="658.7" cy="475.6" r="4.7"/>
<circle cx="658.7" cy="499.9" r="4.7"/>
<circle cx="658.7" cy="516.0" r="4.7"/>
<circle cx="658.7" cy="519.7" r="4.7"/>
<circle cx="658.7" cy="524.1" r="4.7"/>
<circle cx="658.7" cy="531.5" r="4.7"/>
<circle cx="658.7" cy="535.1" r="4.7"/>
<circle cx="585.7" cy="473.8" r="4.7"/>
<circle cx="585.7" cy="476.5" r="4.7"/>
<circle cx="585.7" cy="482.6" r="4.7"/>
<circle cx="585.7" cy="497.0" r="4.7"/>
<circle cx="585.7" cy="501.2" r="4.7"/>
<circle cx="585.7" cy="521.5" r="4.7"/>
<circle cx="524.2" cy="474.7" r="4.7"/>
<circle cx="524.2" cy="480.9" r="4.7"/>
<circle cx="524.2" cy="486.2" r="4.7"/>
<circle cx="524.2" cy="490.6" r="4.7"/>
<circle cx="524.2" cy="495.0" r="4.7"/>
<circle cx="471.2" cy="433.0" r="4.7"/>
<circle cx="471.2" cy="437.4" r="4.7"/>
<circle cx="471.2" cy="465.0" r="4.7"/>
<circle cx="471.2" cy="470.5" r="4.7"/>
<circle cx="471.2" cy="479.3" r="4.7"/>
<circle cx="426.8" cy="397.1" r="4.7"/>
<circle cx="426.8" cy="410.4" r="4.7"/>
<circle cx="426.8" cy="431.0" r="4.7"/>
<circle cx="426.8" cy="450.6" r="4.7"/>
<circle cx="426.8" cy="454.7" r="4.7"/>
<circle cx="426.8" cy="467.1" r="4.7"/>
<circle cx="388.9" cy="373.0" r="4.7"/>
<circle cx="388.9" cy="377.4" r="4.7"/>
<circle cx="388.9" cy="407.2" r="4.7"/>
<circle cx="388.9" cy="427.0" r="4.7"/>
<circle cx="388.9" cy="445.8" r="4.7"/>
<circle cx="355.2" cy="351.2" r="4.7"/>
<circle cx="355.2" cy="369.7" r="4.7"/>
<circle cx="355.2" cy="380.0" r="4.7"/>
<circle cx="355.2" cy="385.1" r="4.7"/>
<circle cx="355.2" cy="389.3" r="4.7"/>
<circle cx="355.2" cy="418.1" r="4.7"/>
<circle cx="327.6" cy="318.2" r="4.7"/>
<circle cx="327.6" cy="379.3" r="4.7"/>
<circle cx="327.6" cy="384.9" r="4.7"/>
<circle cx="327.6" cy="427.9" r="4.7"/>
<circle cx="304.1" cy="320.6" r="4.7"/>
<circle cx="304.1" cy="332.7" r="4.7"/>
<circle cx="304.1" cy="352.6" r="4.7"/>
<circle cx="304.1" cy="358.1" r="4.7"/>
<circle cx="304.1" cy="362.5" r="4.7"/>
<circle cx="283.7" cy="264.8" r="4.7"/>
<circle cx="283.7" cy="271.5" r="4.7"/>
<circle cx="283.7" cy="307.4" r="4.7"/>
<circle cx="283.7" cy="318.4" r="4.7"/>
<circle cx="283.7" cy="333.7" r="4.7"/>
<circle cx="266.4" cy="243.9" r="4.7"/>
<circle cx="266.4" cy="246.6" r="4.7"/>
<circle cx="266.4" cy="251.8" r="4.7"/>
<circle cx="266.4" cy="272.4" r="4.7"/>
<circle cx="266.4" cy="289.9" r="4.7"/>
<circle cx="252.2" cy="217.8" r="4.7"/>
<circle cx="252.2" cy="220.9" r="4.7"/>
<circle cx="252.2" cy="236.3" r="4.7"/>
<circle cx="252.2" cy="264.1" r="4.7"/>
<circle cx="252.2" cy="269.3" r="4.7"/>
<circle cx="239.5" cy="201.8" r="4.7"/>
<circle cx="239.5" cy="207.9" r="4.7"/>
<circle cx="239.5" cy="212.0" r="4.7"/>
<circle cx="239.5" cy="222.4" r="4.7"/>
<circle cx="229.0" cy="168.2" r="4.7"/>
<circle cx="229.0" cy="180.6" r="4.7"/>
<circle cx="229.0" cy="187.6" r="4.7"/>
<circle cx="219.7" cy="136.5" r="4.7"/>
<circle cx="219.7" cy="142.6" r="4.7"/>
<circle cx="219.7" cy="149.7" r="4.7"/>
<circle cx="219.7" cy="154.1" r="4.7"/>
<circle cx="211.8" cy="136.5" r="4.7"/>
<circle cx="211.8" cy="148.8" r="4.7"/>
</g>
<g fill="#c3c32c" fill-opacity="0.75">
<circle cx="168.0" cy="33.1" r="4.7"/>
<circle cx="168.0" cy="38.6" r="4.7"/>
<circle cx="168.0" cy="31.2" r="4.7"/>
<circle cx="168.0" cy="32.2" r="4.7"/>
<circle cx="168.0" cy="32.2" r="4.7"/>
<circle cx="168.0" cy="38.7" r="4.7"/>
<circle cx="168.0" cy="38.9" r="4.7"/>
<circle cx="168.0" cy="36.3" r="4.7"/>
<circle cx="168.0" cy="35.1" r="4.7"/>
<circle cx="168.0" cy="32.8" r="4.7"/>
<circle cx="168.0" cy="33.8" r="4.7"/>
<circle cx="168.1" cy="33.6" r="4.7"/>
<circle cx="168.1" cy="29.9" r="4.7"/>
<circle cx="168.1" cy="39.8" r="4.7"/>
<circle cx="168.1" cy="34.7" r="4.7"/>
<circle cx="168.1" cy="34.1" r="4.7"/>
<circle cx="168.1" cy="36.2" r="4.7"/>
<circle cx="168.1" cy="32.3" r="4.7"/>
<circle cx="168.1" cy="34.0" r="4.7"/>
<circle cx="168.1" cy="38.1" r="4.7"/>
<circle cx="168.1" cy="31.3" r="4.7"/>
<circle cx="168.1" cy="31.8" r="4.7"/>
<circle cx="168.1" cy="31.0" r="4.7"/>
<circle cx="168.1" cy="30.6" r="4.7"/>
<circle cx="168.1" cy="33.4" r="4.7"/>
<circle cx="168.1" cy="33.2" r="4.7"/>
<circle cx="168.1" cy="32.6" r="4.7"/>
<circle cx="168.1" cy="29.1" r="4.7"/>
<circle cx="168.1" cy="32.1" r="4.7"/>
<circle cx="168.1" cy="32.4" r="4.7"/>
<circle cx="168.1" cy="32.3" r="4.7"/>
<circle cx="168.1" cy="38.6" r="4.7"/>
<circle cx="168.1" cy="30.1" r="4.7"/>
<circle cx="168.1" cy="29.6" r="4.7"/>
<circle cx="168.1" cy="35.4" r="4.7"/>
<circle cx="168.1" cy="38.2" r="4.7"/>
<circle cx="168.1" cy="34.4" r="4.7"/>
<circle cx="168.1" cy="34.5" r="4.7"/>
<circle cx="168.1" cy="34.9" r="4.7"/>
<circle cx="168.1" cy="29.8" r="4.7"/>
<circle cx="168.1" cy="37.1" r="4.7"/>
<circle cx="168.1" cy="30.3" r="4.7"/>
<circle cx="168.1" cy="37.8" r="4.7"/>
<circle cx="168.1" cy="36.4" r="4.7"/>
<circle cx="168.2" cy="41.9" r="4.7"/>
<circle cx="168.2" cy="37.6" r="4.7"/>
<circle cx="168.2" cy="33.4" r="4.7"/>
<circle cx="168.2" cy="33.0" r="4.7"/>
<circle cx="168.2" cy="33.5" r="4.7"/>
<circle cx="168.2" cy="35.5" r="4.7"/>
<circle cx="168.2" cy="32.2" r="4.7"/>
<circle cx="168.2" cy="33.3" r="4.7"/>
<circle cx="168.2" cy="35.8" r="4.7"/>
<circle cx="168.2" cy="26.9" r="4.7"/>
<circle cx="168.2" cy="33.1" r="4.7"/>
<circle cx="168.2" cy="33.8" r="4.7"/>
<circle cx="168.2" cy="30.7" r="4.7"/>
<circle cx="168.2" cy="34.8" r="4.7"/>
<circle cx="168.2" cy="33.8" r="4.7"/>
<circle cx="168.2" cy="31.9" r="4.7"/>
<circle cx="168.2" cy="33.9" r="4.7"/>
<circle cx="168.2" cy="34.6" r="4.7"/>
<circle cx="168.2" cy="29.7" r="4.7"/>
<circle cx="168.2" cy="31.2" r="4.7"/>
<circle cx="168.2" cy="35.3" r="4.7"/>
<circle cx="168.2" cy="26.0" r="4.7"/>
<circle cx="168.3" cy="29.8" r="4.7"/>
<circle cx="168.3" cy="31.6" r="4.7"/>
<circle cx="168.3" cy="35.1" r="4.7"/>
<circle cx="168.3" cy="40.6" r="4.7"/>
<circle cx="168.3" cy="30.3" r="4.7"/>
<circle cx="168.3" cy="34.9" r="4.7"/>
<circle cx="168.3" cy="36.4" r="4.7"/>
<circle cx="168.3" cy="33.4" r="4.7"/>
<circle cx="168.3" cy="33.3" r="4.7"/>
<circle cx="168.3" cy="30.0" r="4.7"/>
<circle cx="168.3" cy="37.7" r="4.7"/>
<circle cx="168.3" cy="30.2" r="4.7"/>
<circle cx="168.3" cy="29.9" r="4.7"/>
<circle cx="168.3" cy="36.9" r="4.7"/>
<circle cx="168.3" cy="32.1" r="4.7"/>
<circle cx="168.3" cy="40.6" r="4.7"/>
<circle cx="168.3" cy="38.2" r="4.7"/>
<circle cx="168.3" cy="40.9" r="4.7"/>
<circle cx="168.3" cy="31.5" r="4.7"/>
<circle cx="168.3" cy="38.6" r="4.7"/>
<circle cx="168.3" cy="34.9" r="4.7"/>
<circle cx="168.3" cy="35.4" r="4.7"/>
<circle cx="168.4" cy="36.9" r="4.7"/>
<circle cx="168.4" cy="37.9" r="4.7"/>
<circle cx="168.4" cy="37.5" r="4.7"/>
<circle cx="168.4" cy="39.9" r="4.7"/>
<circle cx="168.4" cy="35.5" r="4.7"/>
<circle cx="168.4" cy="38.8" r="4.7"/>
<circle cx="168.4" cy="34.0" r="4.7"/>
<circle cx="168.4" cy="42.4" r="4.7"/>
<circle cx="168.4" cy="34.1" r="4.7"/>
<circle cx="168.4" cy="37.1" r="4.7"/>
<circle cx="168.4" cy="41.1" r="4.7"/>
<circle cx="168.5" cy="38.4" r="4.7"/>
<circle cx="168.5" cy="33.3" r="4.7"/>
<circle cx="168.5" cy="29.5" r="4.7"/>
<circle cx="168.5" cy="35.8" r="4.7"/>
<circle cx="168.5" cy="33.7" r="4.7"/>
<circle cx="168.5" cy="32.6" r="4.7"/>
<circle cx="168.5" cy="38.3" r="4.7"/>
<circle cx="168.5" cy="35.7" r="4.7"/>
<circle cx="168.5" cy="34.5" r="4.7"/>
<circle cx="168.5" cy="32.8" r="4.7"/>
<circle cx="168.5" cy="35.6" r="4.7"/>
<circle cx="168.6" cy="30.1" r="4.7"/>
<circle cx="168.6" cy="40.3" r="4.7"/>
<circle cx="168.6" cy="38.0" r="4.7"/>
<circle cx="168.6" cy="34.9" r="4.7"/>
<circle cx="168.6" cy="35.3" r="4.7"/>
<circle cx="168.6" cy="37.1" r="4.7"/>
<circle cx="168.6" cy="38.9" r="4.7"/>
<circle cx="168.6" cy="29.1" r="4.7"/>
<circle cx="168.6" cy="32.5" r="4.7"/>
<circle cx="168.6" cy="39.6" r="4.7"/>
<circle cx="168.6" cy="40.1" r="4.7"/>
<circle cx="168.7" cy="36.7" r="4.7"/>
<circle cx="168.7" cy="35.8" r="4.7"/>
<circle cx="168.7" cy="36.3" r="4.7"/>
<circle cx="168.7" cy="35.7" r="4.7"/>
<circle cx="168.7" cy="36.7" r="4.7"/>
<circle cx="168.7" cy="40.4" r="4.7"/>
<circle cx="168.7" cy="34.9" r="4.7"/>
<circle cx="168.7" cy="32.9" r="4.7"/>
<circle cx="168.7" cy="34.9" r="4.7"/>
<circle cx="168.7" cy="36.9" r="4.7"/>
<circle cx="168.7" cy="34.9" r="4.7"/>
<circle cx="168.9" cy="40.4" r="4.7"/>
<circle cx="168.9" cy="37.3" r="4.7"/>
<circle cx="168.9" cy="34.4" r="4.7"/>
<circle cx="168.9" cy="37.8" r="4.7"/>
<circle cx="168.9" cy="33.3" r="4.7"/>
<circle cx="168.9" cy="34.9" r="4.7"/>
<circle cx="168.9" cy="33.8" r="4.7"/>
<circle cx="168.9" cy="37.5" r="4.7"/>
<circle cx="168.9" cy="28.4" r="4.7"/>
<circle cx="168.9" cy="32.8" r="4.7"/>
<circle cx="168.9" cy="37.5" r="4.7"/>
<circle cx="169.0" cy="38.9" r="4.7"/>
<circle cx="169.0" cy="44.2" r="4.7"/>
<circle cx="169.0" cy="39.8" r="4.7"/>
<circle cx="169.0" cy="35.6" r="4.7"/>
<circle cx="169.0" cy="35.6" r="4.7"/>
<circle cx="169.0" cy="37.6" r="4.7"/>
<circle cx="169.0" cy="38.2" r="4.7"/>
<circle cx="169.0" cy="42.2" r="4.7"/>
<circle cx="169.0" cy="31.3" r="4.7"/>
<circle cx="169.0" cy="35.7" r="4.7"/>
<circle cx="169.0" cy="33.8" r="4.7"/>
<circle cx="169.2" cy="41.9" r="4.7"/>
<circle cx="169.2" cy="38.5" r="4.7"/>
<circle cx="169.2" cy="38.2" r="4.7"/>
<circle cx="169.2" cy="36.5" r="4.7"/>
<circle cx="169.2" cy="43.7" r="4.7"/>
<circle cx="169.2" cy="42.5" r="4.7"/>
<circle cx="169.2" cy="38.3" r="4.7"/>
<circle cx="169.2" cy="38.9" r="4.7"/>
<circle cx="169.2" cy="39.3" r="4.7"/>
<circle cx="169.2" cy="38.4" r="4.7"/>
<circle cx="169.2" cy="40.8" r="4.7"/>
<circle cx="169.5" cy="41.6" r="4.7"/>
<circle cx="169.5" cy="43.8" r="4.7"/>
<circle cx="169.5" cy="40.4" r="4.7"/>
<circle cx="169.5" cy="41.7" r="4.7"/>
<circle cx="169.5" cy="43.0" r="4.7"/>
<circle cx="169.5" cy="39.5" r="4.7"/>
<circle cx="169.5" cy="40.8" r="4.7"/>
<circle cx="169.5" cy="38.7" r="4.7"/>
<circle cx="169.5" cy="37.2" r="4.7"/>
<circle cx="169.5" cy="40.5" r="4.7"/>
<circle cx="169.5" cy="30.8" r="4.7"/>
<circle cx="169.7" cy="40.0" r="4.7"/>
<circle cx="169.7" cy="35.8" r="4.7"/>
<circle cx="169.7" cy="39.9" r="4.7"/>
<circle cx="169.7" cy="43.0" r="4.7"/>
<circle cx="169.7" cy="39.1" r="4.7"/>
<circle cx="169.7" cy="37.9" r="4.7"/>
<circle cx="169.7" cy="37.5" r="4.7"/>
<circle cx="169.7" cy="42.9" r="4.7"/>
<circle cx="169.7" cy="33.7" r="4.7"/>
<circle cx="169.7" cy="34.0" r="4.7"/>
<circle cx="169.7" cy="40.0" r="4.7"/>
<circle cx="170.1" cy="47.8" r="4.7"/>
<circle cx="170.1" cy="34.5" r="4.7"/>
<circle cx="170.1" cy="36.0" r="4.7"/>
<circle cx="170.1" cy="45.8" r="4.7"/>
<circle cx="170.1" cy="46.9" r="4.7"/>
<circle cx="170.1" cy="47.3" r="4.7"/>
<circle cx="170.1" cy="36.8" r="4.7"/>
<circle cx="170.1" cy="42.9" r="4.7"/>
<circle cx="170.1" cy="41.4" r="4.7"/>
<circle cx="170.1" cy="42.4" r="4.7"/>
<circle cx="170.1" cy="41.7" r="4.7"/>
<circle cx="170.4" cy="42.5" r="4.7"/>
<circle cx="170.4" cy="31.6" r="4.7"/>
<circle cx="170.4" cy="49.9" r="4.7"/>
<circle cx="170.4" cy="44.6" r="4.7"/>
<circle cx="170.4" cy="41.9" r="4.7"/>
<circle cx="170.4" cy="41.9" r="4.7"/>
<circle cx="170.4" cy="40.9" r="4.7"/>
<circle cx="170.4" cy="43.5" r="4.7"/>
<circle cx="170.4" cy="41.1" r="4.7"/>
<circle cx="170.4" cy="42.3" r="4.7"/>
<circle cx="170.4" cy="39.5" r="4.7"/>
<circle cx="170.9" cy="43.5" r="4.7"/>
<circle cx="170.9" cy="44.7" r="4.7"/>
<circle cx="170.9" cy="37.8" r="4.7"/>
<circle cx="170.9" cy="42.8" r="4.7"/>
<circle cx="170.9" cy="40.4" r="4.7"/>
<circle cx="170.9" cy="46.9" r="4.7"/>
<circle cx="170.9" cy="44.2" r="4.7"/>
<circle cx="170.9" cy="44.1" r="4.7"/>
<circle cx="170.9" cy="51.4" r="4.7"/>
<circle cx="170.9" cy="38.2" r="4.7"/>
<circle cx="170.9" cy="40.4" r="4.7"/>
<circle cx="171.4" cy="50.9" r="4.7"/>
<circle cx="171.4" cy="44.6" r="4.7"/>
<circle cx="171.4" cy="44.8" r="4.7"/>
<circle cx="171.4" cy="51.5" r="4.7"/>
<circle cx="171.4" cy="46.8" r="4.7"/>
<circle cx="171.4" cy="48.2" r="4.7"/>
<circle cx="171.4" cy="43.9" r="4.7"/>
<circle cx="171.4" cy="46.4" r="4.7"/>
<circle cx="171.4" cy="46.3" r="4.7"/>
<circle cx="171.4" cy="47.4" r="4.7"/>
<circle cx="171.4" cy="41.4" r="4.7"/>
<circle cx="172.0" cy="45.8" r="4.7"/>
<circle cx="172.0" cy="55.1" r="4.7"/>
<circle cx="172.0" cy="51.1" r="4.7"/>
<circle cx="172.0" cy="48.1" r="4.7"/>
<circle cx="172.0" cy="44.1" r="4.7"/>
<circle cx="172.0" cy="48.7" r="4.7"/>
<circle cx="172.0" cy="46.6" r="4.7"/>
<circle cx="172.0" cy="51.0" r="4.7"/>
<circle cx="172.0" cy="46.6" r="4.7"/>
<circle cx="172.0" cy="40.4" r="4.7"/>
<circle cx="172.0" cy="51.1" r="4.7"/>
<circle cx="172.7" cy="40.0" r="4.7"/>
<circle cx="172.7" cy="50.4" r="4.7"/>
<circle cx="172.7" cy="51.6" r="4.7"/>
<circle cx="172.7" cy="52.8" r="4.7"/>
<circle cx="172.7" cy="54.5" r="4.7"/>
<circle cx="172.7" cy="53.5" r="4.7"/>
<circle cx="172.7" cy="47.3" r="4.7"/>
<circle cx="172.7" cy="50.2" r="4.7"/>
<circle cx="172.7" cy="50.1" r="4.7"/>
<circle cx="172.7" cy="51.2" r="4.7"/>
<circle cx="172.7" cy="46.0" r="4.7"/>
<circle cx="173.5" cy="49.7" r="4.7"/>
<circle cx="173.5" cy="55.1" r="4.7"/>
<circle cx="173.5" cy="53.4" r="4.7"/>
<circle cx="173.5" cy="64.3" r="4.7"/>
<circle cx="173.5" cy="55.4" r="4.7"/>
<circle cx="173.5" cy="49.7" r="4.7"/>
<circle cx="173.5" cy="46.3" r="4.7"/>
<circle cx="173.5" cy="55.1" r="4.7"/>
<circle cx="173.5" cy="53.8" r="4.7"/>
<circle cx="173.5" cy="45.0" r="4.7"/>
<circle cx="173.5" cy="54.9" r="4.7"/>
<circle cx="174.5" cy="59.5" r="4.7"/>
<circle cx="174.5" cy="58.6" r="4.7"/>
<circle cx="174.5" cy="51.6" r="4.7"/>
<circle cx="174.5" cy="55.9" r="4.7"/>
<circle cx="174.5" cy="58.6" r="4.7"/>
<circle cx="174.5" cy="53.4" r="4.7"/>
<circle cx="174.5" cy="47.6" r="4.7"/>
<circle cx="174.5" cy="56.4" r="4.7"/>
<circle cx="174.5" cy="54.4" r="4.7"/>
<circle cx="174.5" cy="49.5" r="4.7"/>
<circle cx="174.5" cy="54.9" r="4.7"/>
<circle cx="175.7" cy="60.4" r="4.7"/>
<circle cx="175.7" cy="64.1" r="4.7"/>
<circle cx="175.7" cy="60.0" r="4.7"/>
<circle cx="175.7" cy="55.6" r="4.7"/>
<circle cx="175.7" cy="52.9" r="4.7"/>
<circle cx="175.7" cy="49.8" r="4.7"/>
<circle cx="175.7" cy="64.8" r="4.7"/>
<circle cx="175.7" cy="62.6" r="4.7"/>
<circle cx="175.7" cy="75.1" r="4.7"/>
<circle cx="175.7" cy="48.6" r="4.7"/>
<circle cx="175.7" cy="64.5" r="4.7"/>
<circle cx="177.0" cy="65.4" r="4.7"/>
<circle cx="177.0" cy="71.9" r="4.7"/>
<circle cx="177.0" cy="69.5" r="4.7"/>
<circle cx="177.0" cy="63.1" r="4.7"/>
<circle cx="177.0" cy="58.2" r="4.7"/>
<circle cx="177.0" cy="61.5" r="4.7"/>
<circle cx="177.0" cy="60.9" r="4.7"/>
<circle cx="177.0" cy="64.6" r="4.7"/>
<circle cx="177.0" cy="55.5" r="4.7"/>
<circle cx="177.0" cy="66.9" r="4.7"/>
<circle cx="177.0" cy="68.0" r="4.7"/>
<circle cx="178.6" cy="73.9" r="4.7"/>
<circle cx="178.6" cy="63.4" r="4.7"/>
<circle cx="178.6" cy="53.2" r="4.7"/>
<circle cx="178.6" cy="87.5" r="4.7"/>
<circle cx="178.6" cy="72.4" r="4.7"/>
<circle cx="178.6" cy="65.6" r="4.7"/>
<circle cx="178.6" cy="69.9" r="4.7"/>
<circle cx="178.6" cy="74.1" r="4.7"/>
<circle cx="178.6" cy="53.7" r="4.7"/>
<circle cx="178.6" cy="68.7" r="4.7"/>
<circle cx="178.6" cy="81.1" r="4.7"/>
<circle cx="180.4" cy="70.9" r="4.7"/>
<circle cx="180.4" cy="54.6" r="4.7"/>
<circle cx="180.4" cy="82.4" r="4.7"/>
<circle cx="180.4" cy="77.5" r="4.7"/>
<circle cx="180.4" cy="74.6" r="4.7"/>
<circle cx="180.4" cy="67.8" r="4.7"/>
<circle cx="180.4" cy="78.4" r="4.7"/>
<circle cx="180.4" cy="65.7" r="4.7"/>
<circle cx="180.4" cy="81.1" r="4.7"/>
<circle cx="180.4" cy="72.7" r="4.7"/>
<circle cx="180.4" cy="79.0" r="4.7"/>
<circle cx="182.6" cy="86.6" r="4.7"/>
<circle cx="182.6" cy="86.7" r="4.7"/>
<circle cx="182.6" cy="91.5" r="4.7"/>
<circle cx="182.6" cy="75.7" r="4.7"/>
<circle cx="182.6" cy="92.9" r="4.7"/>
<circle cx="182.6" cy="75.5" r="4.7"/>
<circle cx="182.6" cy="90.2" r="4.7"/>
<circle cx="182.6" cy="78.2" r="4.7"/>
<circle cx="182.6" cy="69.2" r="4.7"/>
<circle cx="182.6" cy="79.5" r="4.7"/>
<circle cx="182.6" cy="87.7" r="4.7"/>
<circle cx="185.1" cy="90.3" r="4.7"/>
<circle cx="185.1" cy="68.2" r="4.7"/>
<circle cx="185.1" cy="114.4" r="4.7"/>
<circle cx="185.1" cy="90.7" r="4.7"/>
<circle cx="185.1" cy="106.7" r="4.7"/>
<circle cx="185.1" cy="79.0" r="4.7"/>
<circle cx="185.1" cy="62.5" r="4.7"/>
<circle cx="185.1" cy="113.3" r="4.7"/>
<circle cx="185.1" cy="87.4" r="4.7"/>
<circle cx="185.1" cy="83.6" r="4.7"/>
<circle cx="185.1" cy="91.7" r="4.7"/>
<circle cx="188.1" cy="87.7" r="4.7"/>
<circle cx="188.1" cy="80.3" r="4.7"/>
<circle cx="188.1" cy="87.0" r="4.7"/>
<circle cx="188.1" cy="88.2" r="4.7"/>
<circle cx="188.1" cy="104.0" r="4.7"/>
<circle cx="188.1" cy="105.0" r="4.7"/>
<circle cx="188.1" cy="87.3" r="4.7"/>
<circle cx="188.1" cy="107.2" r="4.7"/>
<circle cx="188.1" cy="117.2" r="4.7"/>
<circle cx="188.1" cy="108.2" r="4.7"/>
<circle cx="188.1" cy="69.6" r="4.7"/>
<circle cx="191.6" cy="105.3" r="4.7"/>
<circle cx="191.6" cy="116.7" r="4.7"/>
<circle cx="191.6" cy="115.7" r="4.7"/>
<circle cx="191.6" cy="133.2" r="4.7"/>
<circle cx="191.6" cy="108.9" r="4.7"/>
<circle cx="191.6" cy="100.8" r="4.7"/>
<circle cx="191.6" cy="100.2" r="4.7"/>
<circle cx="191.6" cy="108.3" r="4.7"/>
<circle cx="191.6" cy="109.0" r="4.7"/>
<circle cx="191.6" cy="95.2" r="4.7"/>
<circle cx="191.6" cy="106.6" r="4.7"/>
<circle cx="195.7" cy="127.2" r="4.7"/>
<circle cx="195.7" cy="130.0" r="4.7"/>
<circle cx="195.7" cy="96.7" r="4.7"/>
<circle cx="195.7" cy="126.7" r="4.7"/>
<circle cx="195.7" cy="117.6" r="4.7"/>
<circle cx="195.7" cy="87.4" r="4.7"/>
<circle cx="195.7" cy="101.2" r="4.7"/>
<circle cx="195.7" cy="113.1" r="4.7"/>
<circle cx="195.7" cy="126.5" r="4.7"/>
<circle cx="195.7" cy="112.1" r="4.7"/>
<circle cx="195.7" cy="95.0" r="4.7"/>
<circle cx="200.5" cy="146.4" r="4.7"/>
<circle cx="200.5" cy="129.4" r="4.7"/>
<circle cx="200.5" cy="123.7" r="4.7"/>
<circle cx="200.5" cy="130.0" r="4.7"/>
<circle cx="200.5" cy="126.4" r="4.7"/>
<circle cx="200.5" cy="142.8" r="4.7"/>
<circle cx="200.5" cy="109.7" r="4.7"/>
<circle cx="200.5" cy="139.9" r="4.7"/>
<circle cx="200.5" cy="156.8" r="4.7"/>
<circle cx="200.5" cy="133.2" r="4.7"/>
<circle cx="200.5" cy="141.5" r="4.7"/>
<circle cx="206.2" cy="165.2" r="4.7"/>
<circle cx="206.2" cy="179.4" r="4.7"/>
<circle cx="206.2" cy="172.0" r="4.7"/>
<circle cx="206.2" cy="139.4" r="4.7"/>
<circle cx="206.2" cy="154.0" r="4.7"/>
<circle cx="206.2" cy="171.8" r="4.7"/>
<circle cx="206.2" cy="166.2" r="4.7"/>
<circle cx="206.2" cy="135.7" r="4.7"/>
<circle cx="206.2" cy="155.9" r="4.7"/>
<circle cx="206.2" cy="150.0" r="4.7"/>
<circle cx="206.2" cy="139.9" r="4.7"/>
<circle cx="959.4" cy="491.0" r="4.7"/>
<circle cx="959.4" cy="494.5" r="4.7"/>
<circle cx="959.4" cy="498.0" r="4.7"/>
<circle cx="959.4" cy="503.0" r="4.7"/>
<circle cx="959.4" cy="508.0" r="4.7"/>
<circle cx="959.4" cy="513.0" r="4.7"/>
<circle cx="959.4" cy="518.0" r="4.7"/>
<circle cx="959.4" cy="523.0" r="4.7"/>
<circle cx="959.4" cy="528.0" r="4.7"/>
<circle cx="843.4" cy="481.5" r="4.7"/>
<circle cx="843.4" cy="491.0" r="4.7"/>
<circle cx="843.4" cy="495.3" r="4.7"/>
<circle cx="843.4" cy="498.0" r="4.7"/>
<circle cx="843.4" cy="502.6" r="4.7"/>
<circle cx="843.4" cy="505.6" r="4.7"/>
<circle cx="843.4" cy="529.0" r="4.7"/>
<circle cx="843.4" cy="532.0" r="4.7"/>
<circle cx="743.4" cy="485.9" r="4.7"/>
<circle cx="743.4" cy="490.3" r="4.7"/>
<circle cx="743.4" cy="494.0" r="4.7"/>
<circle cx="743.4" cy="499.0" r="4.7"/>
<circle cx="743.4" cy="510.0" r="4.7"/>
<circle cx="743.4" cy="513.8" r="4.7"/>
<circle cx="743.4" cy="518.2" r="4.7"/>
<circle cx="743.4" cy="521.2" r="4.7"/>
<circle cx="743.4" cy="533.7" r="4.7"/>
<circle cx="743.4" cy="541.8" r="4.7"/>
<circle cx="658.7" cy="471.6" r="4.7"/>
<circle cx="658.7" cy="476.0" r="4.7"/>
<circle cx="658.7" cy="480.7" r="4.7"/>
<circle cx="658.7" cy="485.1" r="4.7"/>
<circle cx="658.7" cy="494.0" r="4.7"/>
<circle cx="658.7" cy="509.4" r="4.7"/>
<circle cx="658.7" cy="524.1" r="4.7"/>
<circle cx="585.7" cy="441.5" r="4.7"/>
<circle cx="585.7" cy="466.2" r="4.7"/>
<circle cx="585.7" cy="470.0" r="4.7"/>
<circle cx="585.7" cy="478.0" r="4.7"/>
<circle cx="585.7" cy="482.6" r="4.7"/>
<circle cx="585.7" cy="487.0" r="4.7"/>
<circle cx="585.7" cy="490.6" r="4.7"/>
<circle cx="585.7" cy="515.3" r="4.7"/>
<circle cx="585.7" cy="521.5" r="4.7"/>
<circle cx="524.2" cy="451.8" r="4.7"/>
<circle cx="524.2" cy="456.2" r="4.7"/>
<circle cx="524.2" cy="460.9" r="4.7"/>
<circle cx="524.2" cy="465.9" r="4.7"/>
<circle cx="524.2" cy="469.4" r="4.7"/>
<circle cx="524.2" cy="480.9" r="4.7"/>
<circle cx="524.2" cy="490.6" r="4.7"/>
<circle cx="524.2" cy="502.9" r="4.7"/>
<circle cx="471.2" cy="417.0" r="4.7"/>
<circle cx="471.2" cy="437.4" r="4.7"/>
<circle cx="471.2" cy="443.0" r="4.7"/>
<circle cx="471.2" cy="449.6" r="4.7"/>
<circle cx="471.2" cy="456.0" r="4.7"/>
<circle cx="471.2" cy="482.7" r="4.7"/>
<circle cx="471.2" cy="502.0" r="4.7"/>
<circle cx="426.8" cy="401.2" r="4.7"/>
<circle cx="426.8" cy="410.4" r="4.7"/>
<circle cx="426.8" cy="415.6" r="4.7"/>
<circle cx="426.8" cy="421.8" r="4.7"/>
<circle cx="426.8" cy="428.0" r="4.7"/>
<circle cx="426.8" cy="439.3" r="4.7"/>
<circle cx="426.8" cy="442.4" r="4.7"/>
<circle cx="426.8" cy="454.7" r="4.7"/>
<circle cx="426.8" cy="460.9" r="4.7"/>
<circle cx="388.9" cy="377.4" r="4.7"/>
<circle cx="388.9" cy="383.0" r="4.7"/>
<circle cx="388.9" cy="388.5" r="4.7"/>
<circle cx="388.9" cy="400.6" r="4.7"/>
<circle cx="388.9" cy="412.7" r="4.7"/>
<circle cx="388.9" cy="417.1" r="4.7"/>
<circle cx="388.9" cy="427.0" r="4.7"/>
<circle cx="388.9" cy="439.2" r="4.7"/>
<circle cx="388.9" cy="460.2" r="4.7"/>
<circle cx="355.2" cy="355.3" r="4.7"/>
<circle cx="355.2" cy="360.4" r="4.7"/>
<circle cx="355.2" cy="375.9" r="4.7"/>
<circle cx="355.2" cy="385.1" r="4.7"/>
<circle cx="355.2" cy="389.3" r="4.7"/>
<circle cx="355.2" cy="396.5" r="4.7"/>
<circle cx="355.2" cy="401.6" r="4.7"/>
<circle cx="355.2" cy="406.8" r="4.7"/>
<circle cx="355.2" cy="411.9" r="4.7"/>
<circle cx="327.6" cy="336.8" r="4.7"/>
<circle cx="327.6" cy="343.0" r="4.7"/>
<circle cx="327.6" cy="348.5" r="4.7"/>
<circle cx="327.6" cy="354.0" r="4.7"/>
<circle cx="327.6" cy="359.5" r="4.7"/>
<circle cx="327.6" cy="363.9" r="4.7"/>
<circle cx="327.6" cy="370.5" r="4.7"/>
<circle cx="304.1" cy="296.3" r="4.7"/>
<circle cx="304.1" cy="301.8" r="4.7"/>
<circle cx="304.1" cy="307.4" r="4.7"/>
<circle cx="304.1" cy="312.9" r="4.7"/>
<circle cx="304.1" cy="320.6" r="4.7"/>
<circle cx="304.1" cy="340.4" r="4.7"/>
<circle cx="304.1" cy="352.6" r="4.7"/>
<circle cx="304.1" cy="378.4" r="4.7"/>
<circle cx="283.7" cy="239.7" r="4.7"/>
<circle cx="283.7" cy="278.0" r="4.7"/>
<circle cx="283.7" cy="284.7" r="4.7"/>
<circle cx="283.7" cy="289.7" r="4.7"/>
<circle cx="283.7" cy="296.3" r="4.7"/>
<circle cx="283.7" cy="301.8" r="4.7"/>
<circle cx="283.7" cy="307.4" r="4.7"/>
<circle cx="283.7" cy="312.9" r="4.7"/>
<circle cx="283.7" cy="323.9" r="4.7"/>
<circle cx="266.4" cy="251.8" r="4.7"/>
<circle cx="266.4" cy="256.9" r="4.7"/>
<circle cx="266.4" cy="262.1" r="4.7"/>
<circle cx="266.4" cy="267.2" r="4.7"/>
<circle cx="266.4" cy="272.4" r="4.7"/>
<circle cx="266.4" cy="295.0" r="4.7"/>
<circle cx="266.4" cy="299.1" r="4.7"/>
<circle cx="266.4" cy="318.7" r="4.7"/>
<circle cx="266.4" cy="323.8" r="4.7"/>
<circle cx="252.2" cy="217.8" r="4.7"/>
<circle cx="252.2" cy="243.5" r="4.7"/>
<circle cx="252.2" cy="249.7" r="4.7"/>
<circle cx="252.2" cy="254.9" r="4.7"/>
<circle cx="252.2" cy="260.0" r="4.7"/>
<circle cx="252.2" cy="264.1" r="4.7"/>
<circle cx="252.2" cy="274.4" r="4.7"/>
<circle cx="252.2" cy="279.6" r="4.7"/>
<circle cx="239.5" cy="190.4" r="4.7"/>
<circle cx="239.5" cy="195.6" r="4.7"/>
<circle cx="239.5" cy="222.4" r="4.7"/>
<circle cx="239.5" cy="230.6" r="4.7"/>
<circle cx="239.5" cy="236.8" r="4.7"/>
<circle cx="239.5" cy="243.0" r="4.7"/>
<circle cx="239.5" cy="261.5" r="4.7"/>
<circle cx="229.0" cy="161.2" r="4.7"/>
<circle cx="229.0" cy="187.6" r="4.7"/>
<circle cx="229.0" cy="194.7" r="4.7"/>
<circle cx="229.0" cy="200.0" r="4.7"/>
<circle cx="229.0" cy="208.8" r="4.7"/>
<circle cx="229.0" cy="214.1" r="4.7"/>
<circle cx="219.7" cy="149.7" r="4.7"/>
<circle cx="219.7" cy="156.0" r="4.7"/>
<circle cx="219.7" cy="163.0" r="4.7"/>
<circle cx="219.7" cy="170.0" r="4.7"/>
<circle cx="219.7" cy="184.1" r="4.7"/>
<circle cx="219.7" cy="189.4" r="4.7"/>
<circle cx="211.8" cy="140.0" r="4.7"/>
<circle cx="211.8" cy="154.0" r="4.7"/>
<circle cx="211.8" cy="161.2" r="4.7"/>
<circle cx="211.8" cy="168.2" r="4.7"/>
<circle cx="211.8" cy="177.0" r="4.7"/>
<circle cx="211.8" cy="195.6" r="4.7"/>
</g>
<path d="M189.51,103.30 L189.90,104.41 L190.30,105.54 L190.71,106.69 L191.12,107.85 L191.54,109.04 L191.97,110.24 L192.41,111.46 L192.85,112.69 L193.31,113.95 L193.77,115.22 L194.24,116.52 L194.72,117.83 L195.21,119.16 L195.70,120.51 L196.21,121.89 L196.72,123.28 L197.25,124.69 L197.78,126.12 L198.32,127.57 L198.87,129.05 L199.44,130.54 L200.01,132.06 L200.59,133.59 L201.19,135.15 L201.79,136.73 L202.41,138.33 L203.04,139.96 L203.67,141.60 L204.32,143.27 L204.99,144.96 L205.66,146.68 L206.35,148.41 L207.05,150.17 L207.76,151.96 L208.48,153.76 L209.22,155.59 L209.97,157.45 L210.73,159.33 L211.51,161.23 L212.30,163.15 L213.11,165.10 L213.93,167.07 L214.77,169.07 L215.62,171.09 L216.49,173.14 L217.37,175.21 L218.27,177.31 L219.19,179.43 L220.12,181.57 L221.07,183.74 L222.03,185.94 L223.02,188.16 L224.02,190.40 L225.04,192.67 L226.08,194.97 L227.13,197.28 L228.21,199.63 L229.31,202.00 L230.42,204.39 L231.56,206.80 L232.72,209.25 L233.89,211.71 L235.09,214.20 L236.31,216.71 L237.56,219.25 L238.82,221.81 L240.11,224.40 L241.42,227.01 L242.76,229.64 L244.12,232.29 L245.51,234.97 L246.92,237.66 L248.35,240.38 L249.81,243.13 L251.30,245.89 L252.82,248.67 L254.36,251.48 L255.93,254.30 L257.53,257.15 L259.16,260.01 L260.82,262.90 L262.51,265.80 L264.23,268.72 L265.98,271.65 L267.76,274.61 L269.57,277.58 L271.42,280.56 L273.30,283.56 L275.22,286.58 L277.17,289.61 L279.15,292.65 L281.18,295.70 L283.23,298.77 L285.33,301.84 L287.46,304.93 L289.64,308.03 L291.85,311.13 L294.10,314.24 L296.40,317.36 L298.73,320.49 L301.11,323.62 L303.53,326.75 L305.99,329.89 L308.50,333.03 L311.06,336.17 L313.66,339.31 L316.31,342.45 L319.01,345.59 L321.75,348.73 L324.55,351.86 L327.39,354.98 L330.29,358.10 L333.24,361.22 L336.25,364.32 L339.31,367.42 L342.42,370.50 L345.59,373.57 L348.82,376.63 L352.11,379.68 L355.46,382.71 L358.87,385.72 L362.34,388.71 L365.87,391.69 L369.47,394.65 L373.13,397.58 L376.86,400.49 L380.66,403.38 L384.52,406.24 L388.46,409.08 L392.47,411.89 L396.55,414.67 L400.71,417.43 L404.94,420.15 L409.24,422.84 L413.63,425.49 L418.10,428.12 L422.64,430.71 L427.27,433.26 L431.98,435.78 L436.78,438.25 L441.67,440.69 L446.65,443.09 L451.71,445.45 L456.87,447.77 L462.12,450.05 L467.47,452.29 L472.91,454.48 L478.45,456.62 L484.10,458.73 L489.84,460.79 L495.69,462.80 L501.65,464.76 L507.71,466.69 L513.89,468.56 L520.18,470.39 L526.58,472.17 L533.10,473.90 L539.73,475.58 L546.49,477.22 L553.37,478.81 L560.38,480.35 L567.51,481.85 L574.77,483.30 L582.16,484.70 L589.69,486.05 L597.36,487.36 L605.16,488.62 L613.11,489.84 L621.20,491.01 L629.44,492.13 L637.82,493.22 L646.36,494.26 L655.06,495.25 L663.91,496.21 L672.92,497.12 L682.10,497.99 L691.45,498.83 L700.96,499.62 L710.65,500.38 L720.51,501.10 L730.55,501.78 L740.78,502.43 L751.19,503.04 L761.79,503.63 L772.58,504.18 L783.57,504.69 L794.76,505.18 L806.15,505.64 L817.75,506.08 L829.56,506.48 L841.58,506.86 L853.82,507.22 L866.29,507.55 L878.98,507.86 L891.90,508.15 L905.06,508.42 L918.45,508.67 L932.09,508.90 L945.98,509.12 L960.12,509.31" fill="none" stroke="#cbcb3a" stroke-width="2.8"/>
<path d="M189.51,97.33 L189.90,98.43 L190.30,99.54 L190.71,100.67 L191.12,101.82 L191.54,102.99 L191.97,104.17 L192.41,105.37 L192.85,106.59 L193.31,107.83 L193.77,109.09 L194.24,110.37 L194.72,111.66 L195.21,112.97 L195.70,114.31 L196.21,115.66 L196.72,117.03 L197.25,118.43 L197.78,119.84 L198.32,121.27 L198.87,122.73 L199.44,124.20 L200.01,125.70 L200.59,127.22 L201.19,128.75 L201.79,130.31 L202.41,131.90 L203.04,133.50 L203.67,135.13 L204.32,136.77 L204.99,138.44 L205.66,140.14 L206.35,141.85 L207.05,143.59 L207.76,145.35 L208.48,147.14 L209.22,148.95 L209.97,150.78 L210.73,152.64 L211.51,154.52 L212.30,156.42 L213.11,158.35 L213.93,160.30 L214.77,162.27 L215.62,164.27 L216.49,166.30 L217.37,168.35 L218.27,170.42 L219.19,172.52 L220.12,174.64 L221.07,176.79 L222.03,178.96 L223.02,181.16 L224.02,183.38 L225.04,185.63 L226.08,187.90 L227.13,190.20 L228.21,192.52 L229.31,194.87 L230.42,197.24 L231.56,199.63 L232.72,202.05 L233.89,204.50 L235.09,206.97 L236.31,209.46 L237.56,211.98 L238.82,214.52 L240.11,217.08 L241.42,219.67 L242.76,222.28 L244.12,224.91 L245.51,227.57 L246.92,230.25 L248.35,232.95 L249.81,235.68 L251.30,238.42 L252.82,241.19 L254.36,243.98 L255.93,246.79 L257.53,249.62 L259.16,252.47 L260.82,255.33 L262.51,258.22 L264.23,261.13 L265.98,264.05 L267.76,266.99 L269.57,269.95 L271.42,272.92 L273.30,275.91 L275.22,278.92 L277.17,281.94 L279.15,284.97 L281.18,288.02 L283.23,291.08 L285.33,294.15 L287.46,297.23 L289.64,300.32 L291.85,303.43 L294.10,306.54 L296.40,309.65 L298.73,312.78 L301.11,315.91 L303.53,319.04 L305.99,322.18 L308.50,325.33 L311.06,328.47 L313.66,331.62 L316.31,334.77 L319.01,337.91 L321.75,341.06 L324.55,344.20 L327.39,347.34 L330.29,350.47 L333.24,353.59 L336.25,356.71 L339.31,359.82 L342.42,362.92 L345.59,366.02 L348.82,369.09 L352.11,372.16 L355.46,375.21 L358.87,378.25 L362.34,381.27 L365.87,384.27 L369.47,387.25 L373.13,390.21 L376.86,393.15 L380.66,396.07 L384.52,398.97 L388.46,401.84 L392.47,404.68 L396.55,407.50 L400.71,410.29 L404.94,413.04 L409.24,415.77 L413.63,418.47 L418.10,421.13 L422.64,423.76 L427.27,426.36 L431.98,428.92 L436.78,431.44 L441.67,433.93 L446.65,436.37 L451.71,438.78 L456.87,441.15 L462.12,443.47 L467.47,445.76 L472.91,448.00 L478.45,450.19 L484.10,452.35 L489.84,454.46 L495.69,456.52 L501.65,458.54 L507.71,460.51 L513.89,462.44 L520.18,464.32 L526.58,466.15 L533.10,467.94 L539.73,469.68 L546.49,471.37 L553.37,473.01 L560.38,474.60 L567.51,476.15 L574.77,477.65 L582.16,479.11 L589.69,480.51 L597.36,481.87 L605.16,483.18 L613.11,484.45 L621.20,485.67 L629.44,486.85 L637.82,487.98 L646.36,489.06 L655.06,490.11 L663.91,491.11 L672.92,492.07 L682.10,492.98 L691.45,493.86 L700.96,494.70 L710.65,495.49 L720.51,496.25 L730.55,496.98 L740.78,497.66 L751.19,498.32 L761.79,498.93 L772.58,499.52 L783.57,500.07 L794.76,500.59 L806.15,501.08 L817.75,501.55 L829.56,501.98 L841.58,502.39 L853.82,502.77 L866.29,503.13 L878.98,503.47 L891.90,503.78 L905.06,504.07 L918.45,504.34 L932.09,504.59 L945.98,504.82 L960.12,505.04" fill="none" stroke="#4048a8" stroke-width="2.8"/>
<path d="M189.51,101.12 L189.90,102.20 L190.30,103.30 L190.71,104.42 L191.12,105.55 L191.54,106.70 L191.97,107.87 L192.41,109.06 L192.85,110.27 L193.31,111.49 L193.77,112.73 L194.24,113.99 L194.72,115.27 L195.21,116.57 L195.70,117.89 L196.21,119.22 L196.72,120.58 L197.25,121.96 L197.78,123.36 L198.32,124.77 L198.87,126.21 L199.44,127.67 L200.01,129.15 L200.59,130.65 L201.19,132.17 L201.79,133.72 L202.41,135.29 L203.04,136.87 L203.67,138.48 L204.32,140.12 L204.99,141.77 L205.66,143.45 L206.35,145.15 L207.05,146.87 L207.76,148.62 L208.48,150.39 L209.22,152.18 L209.97,154.00 L210.73,155.84 L211.51,157.71 L212.30,159.59 L213.11,161.51 L213.93,163.45 L214.77,165.41 L215.62,167.40 L216.49,169.41 L217.37,171.44 L218.27,173.51 L219.19,175.59 L220.12,177.70 L221.07,179.84 L222.03,182.00 L223.02,184.19 L224.02,186.40 L225.04,188.64 L226.08,190.90 L227.13,193.19 L228.21,195.50 L229.31,197.84 L230.42,200.21 L231.56,202.60 L232.72,205.01 L233.89,207.45 L235.09,209.91 L236.31,212.40 L237.56,214.92 L238.82,217.46 L240.11,220.02 L241.42,222.61 L242.76,225.22 L244.12,227.86 L245.51,230.52 L246.92,233.20 L248.35,235.91 L249.81,238.64 L251.30,241.39 L252.82,244.16 L254.36,246.96 L255.93,249.78 L257.53,252.62 L259.16,255.48 L260.82,258.37 L262.51,261.27 L264.23,264.19 L265.98,267.13 L267.76,270.09 L269.57,273.07 L271.42,276.07 L273.30,279.09 L275.22,282.12 L277.17,285.16 L279.15,288.23 L281.18,291.30 L283.23,294.40 L285.33,297.50 L287.46,300.62 L289.64,303.75 L291.85,306.89 L294.10,310.05 L296.40,313.21 L298.73,316.38 L301.11,319.56 L303.53,322.74 L305.99,325.93 L308.50,329.13 L311.06,332.33 L313.66,335.54 L316.31,338.75 L319.01,341.96 L321.75,345.17 L324.55,348.38 L327.39,351.58 L330.29,354.79 L333.24,357.99 L336.25,361.18 L339.31,364.37 L342.42,367.56 L345.59,370.73 L348.82,373.90 L352.11,377.05 L355.46,380.19 L358.87,383.32 L362.34,386.43 L365.87,389.53 L369.47,392.62 L373.13,395.68 L376.86,398.72 L380.66,401.75 L384.52,404.75 L388.46,407.73 L392.47,410.69 L396.55,413.62 L400.71,416.52 L404.94,419.40 L409.24,422.25 L413.63,425.07 L418.10,427.86 L422.64,430.61 L427.27,433.33 L431.98,436.02 L436.78,438.67 L441.67,441.29 L446.65,443.87 L451.71,446.41 L456.87,448.91 L462.12,451.37 L467.47,453.79 L472.91,456.17 L478.45,458.50 L484.10,460.80 L489.84,463.05 L495.69,465.25 L501.65,467.41 L507.71,469.52 L513.89,471.58 L520.18,473.60 L526.58,475.58 L533.10,477.50 L539.73,479.38 L546.49,481.20 L553.37,482.98 L560.38,484.72 L567.51,486.40 L574.77,488.03 L582.16,489.62 L589.69,491.16 L597.36,492.65 L605.16,494.09 L613.11,495.48 L621.20,496.83 L629.44,498.13 L637.82,499.38 L646.36,500.58 L655.06,501.74 L663.91,502.86 L672.92,503.93 L682.10,504.96 L691.45,505.94 L700.96,506.88 L710.65,507.78 L720.51,508.64 L730.55,509.46 L740.78,510.24 L751.19,510.98 L761.79,511.69 L772.58,512.36 L783.57,513.00 L794.76,513.60 L806.15,514.17 L817.75,514.70 L829.56,515.21 L841.58,515.68 L853.82,516.13 L866.29,516.55 L878.98,516.95 L891.90,517.32 L905.06,517.66 L918.45,517.98 L932.09,518.28 L945.98,518.56 L960.12,518.82" fill="none" stroke="#d83232" stroke-width="2.8"/>
<path d="M166.4,30.8 L168.04,37.46 L168.05,37.49 L168.06,37.53 L168.07,37.56 L168.09,37.60 L168.10,37.64 L168.11,37.68 L168.13,37.72 L168.14,37.77 L168.16,37.82 L168.17,37.87 L168.19,37.93 L168.21,37.99 L168.23,38.06 L168.25,38.12 L168.28,38.20 L168.30,38.28 L168.33,38.36 L168.35,38.45 L168.38,38.54 L168.42,38.65 L168.45,38.75 L168.49,38.87 L168.53,38.99 L168.57,39.12 L168.61,39.26 L168.66,39.41 L168.71,39.57 L168.76,39.74 L168.82,39.92 L168.88,40.11 L168.94,40.31 L169.01,40.53 L169.08,40.76 L169.16,41.00 L169.24,41.27 L169.33,41.55 L169.43,41.84 L169.53,42.16 L169.64,42.50 L169.75,42.86 L169.87,43.24 L170.00,43.65 L170.14,44.09 L170.29,44.55 L170.45,45.04 L170.61,45.57 L170.79,46.13 L170.98,46.72 L171.19,47.35 L171.40,48.03 L171.63,48.75 L171.88,49.51 L172.14,50.32 L172.42,51.19 L172.72,52.11 L173.04,53.08 L173.38,54.12 L173.74,55.23 L174.12,56.41 L174.53,57.66 L174.97,58.99 L175.43,60.40 L175.93,61.90 L176.46,63.50 L177.02,65.19 L177.63,66.99 L178.27,68.90 L178.95,70.93 L179.68,73.08 L180.45,75.36 L181.28,77.78 L182.16,80.34 L183.10,83.06 L184.11,85.94 L185.17,88.98 L186.31,92.20 L187.53,95.61 L188.82,99.22 L190.20,103.02 L191.67,107.04" fill="none" stroke="#7e2e44" stroke-opacity="0.8" stroke-width="1.8"/>
<path d="M189.51,101.12 L189.84,102.05 L190.19,103.00 L190.54,103.96 L190.89,104.93 L191.25,105.91 L191.62,106.91 L191.99,107.92 L192.37,108.94 L192.75,109.98 L193.14,111.03 L193.53,112.10 L193.94,113.18 L194.34,114.27 L194.76,115.37 L195.18,116.49 L195.60,117.63 L196.04,118.78 L196.48,119.94 L196.93,121.12 L197.38,122.32 L197.84,123.53 L198.31,124.75 L198.79,125.99 L199.27,127.24 L199.76,128.52 L200.26,129.80 L200.77,131.10 L201.28,132.42 L201.81,133.76 L202.34,135.11 L202.88,136.47 L203.43,137.86 L203.98,139.26 L204.55,140.67 L205.12,142.11 L205.70,143.56 L206.30,145.02 L206.90,146.51 L207.51,148.01 L208.13,149.53 L208.76,151.06 L209.40,152.62 L210.05,154.19 L210.71,155.78 L211.38,157.39 L212.06,159.01 L212.75,160.65 L213.45,162.32 L214.17,164.00 L214.89,165.69 L215.63,167.41 L216.37,169.14 L217.13,170.90 L217.91,172.67 L218.69,174.46 L219.48,176.27 L220.29,178.09 L221.11,179.94 L221.95,181.81 L222.79,183.69 L223.65,185.59 L224.52,187.51 L225.41,189.45 L226.31,191.41 L227.23,193.39 L228.16,195.39 L229.10,197.40 L230.06,199.44 L231.03,201.49 L232.02,203.56 L233.02,205.65 L234.04,207.76 L235.08,209.89 L236.13,212.04 L237.20,214.20 L238.29,216.38 L239.39,218.59 L240.51,220.81 L241.65,223.04 L242.80,225.30" fill="none" stroke="#8a2c40" stroke-opacity="0.45" stroke-width="1.8"/>
<rect x="127.2" y="0.6" width="871.8" height="566.7" fill="none" stroke="#555" stroke-width="2"/>
<line x1="123" y1="25.3" x2="127" y2="25.3" stroke="#555" stroke-width="2"/>
<line x1="123" y1="122.0" x2="127" y2="122.0" stroke="#555" stroke-width="2"/>
<line x1="123" y1="218.8" x2="127" y2="218.8" stroke="#555" stroke-width="2"/>
<line x1="123" y1="315.5" x2="127" y2="315.5" stroke="#555" stroke-width="2"/>
<line x1="123" y1="412.3" x2="127" y2="412.3" stroke="#555" stroke-width="2"/>
<line x1="123" y1="509.0" x2="127" y2="509.0" stroke="#555" stroke-width="2"/>
<text transform="translate(56.48,36.74) scale(0.3464,0.3294)" style='font-family:"Liberation Serif",serif;font-size:100px' fill="#000" stroke="#000" stroke-width="1.63">1.0</text>
<text transform="translate(57.66,133.82) scale(0.3359,0.3403)" style='font-family:"Liberation Serif",serif;font-size:100px' fill="#000" stroke="#000" stroke-width="1.63">0.9</text>
<text transform="translate(57.66,230.60) scale(0.3350,0.3418)" style='font-family:"Liberation Serif",serif;font-size:100px' fill="#000" stroke="#000" stroke-width="1.63">0.8</text>
<text transform="translate(57.67,327.34) scale(0.3322,0.3418)" style='font-family:"Liberation Serif",serif;font-size:100px' fill="#000" stroke="#000" stroke-width="1.63">0.7</text>
<text transform="translate(57.67,424.08) scale(0.3322,0.3418)" style='font-family:"Liberation Serif",serif;font-size:100px' fill="#000" stroke="#000" stroke-width="1.63">0.6</text>
<text transform="translate(57.67,520.80) scale(0.3333,0.3493)" style='font-family:"Liberation Serif",serif;font-size:100px' fill="#000" stroke="#000" stroke-width="1.61">0.5</text>
<line x1="167.9" y1="567" x2="167.9" y2="571.5" stroke="#555" stroke-width="2"/>
<line x1="311.9" y1="567" x2="311.9" y2="571.5" stroke="#555" stroke-width="2"/>
<line x1="456.0" y1="567" x2="456.0" y2="571.5" stroke="#555" stroke-width="2"/>
<line x1="600.0" y1="567" x2="600.0" y2="571.5" stroke="#555" stroke-width="2"/>
<line x1="744.1" y1="567" x2="744.1" y2="571.5" stroke="#555" stroke-width="2"/>
<line x1="888.1" y1="567" x2="888.1" y2="571.5" stroke="#555" stroke-width="2"/>
<text transform="translate(154.10,617.96) scale(0.3762,0.3224)" style='font-family:"Liberation Serif",serif;font-size:100px' fill="#000" stroke="#000" stroke-width="1.58">0</text>
<text transform="translate(270.75,617.84) scale(0.3610,0.3309)" style='font-family:"Liberation Serif",serif;font-size:100px' fill="#000" stroke="#000" stroke-width="1.59">1000</text>
<text transform="translate(415.38,617.83) scale(0.3562,0.3358)" style='font-family:"Liberation Serif",serif;font-size:100px' fill="#000" stroke="#000" stroke-width="1.59">2000</text>
<text transform="translate(559.00,617.83) scale(0.3597,0.3358)" style='font-family:"Liberation Serif",serif;font-size:100px' fill="#000" stroke="#000" stroke-width="1.58">3000</text>
<text transform="translate(702.79,617.81) scale(0.3557,0.3433)" style='font-family:"Liberation Serif",serif;font-size:100px' fill="#000" stroke="#000" stroke-width="1.57">4000</text>
<text transform="translate(845.63,617.80) scale(0.3616,0.3507)" style='font-family:"Liberation Serif",serif;font-size:100px' fill="#000" stroke="#000" stroke-width="1.54">5000</text>
<text transform="translate(494.40,679.93) scale(0.3601,0.3730)" style='font-family:"Liberation Sans",sans-serif;font-size:100px' fill="#000">Cliffords</text>
<text transform="translate(25.56,367.85) rotate(-90) scale(0.3558,0.3419)" style='font-family:"Liberation Sans",sans-serif;font-size:100px' fill="#000">Excitation</text>
<rect x="656.1" y="12" width="329.5" height="196.8" rx="8.3" ry="8.3" fill="#fff" stroke="#a9a7a9" stroke-width="1.8"/>
<circle cx="701.2" cy="54.4" r="9.8" fill="#5f66ae"/>
<text transform="translate(738.54,61.94) scale(0.2920,0.2840)" style='font-family:"Liberation Sans",sans-serif;font-size:100px' fill="#000">Spectators in</text>
<text transform="translate(916.96,62.64) scale(0.3375,0.3170)" style='font-family:"Liberation Sans",sans-serif;font-size:100px' fill="#000">|</text>
<text transform="translate(926.59,61.93) scale(0.3524,0.3343)" style='font-family:"Liberation Serif",serif;font-size:100px' fill="#000">0</text>
<text transform="translate(942.75,64.95) scale(0.3818,0.3348)" style='font-family:"DejaVu Sans",sans-serif;font-size:100px' fill="#000">⟩</text>
<circle cx="701.2" cy="108.0" r="9.8" fill="#d6d667"/>
<text transform="translate(738.54,120.04) scale(0.2920,0.2840)" style='font-family:"Liberation Sans",sans-serif;font-size:100px' fill="#000">Spectators in</text>
<text transform="translate(916.96,120.74) scale(0.3375,0.3170)" style='font-family:"Liberation Sans",sans-serif;font-size:100px' fill="#000">|</text>
<text transform="translate(926.63,125.30) scale(0.4146,0.4224)" style='font-family:"Liberation Sans",sans-serif;font-size:100px' fill="#000">+</text>
<text transform="translate(949.05,123.00) scale(0.3818,0.3382)" style='font-family:"DejaVu Sans",sans-serif;font-size:100px' fill="#000">⟩</text>
<circle cx="701.2" cy="167.4" r="9.8" fill="#d45f63"/>
<text transform="translate(738.54,178.04) scale(0.2920,0.2840)" style='font-family:"Liberation Sans",sans-serif;font-size:100px' fill="#000">Spectators in</text>
<text transform="translate(916.96,178.74) scale(0.3375,0.3170)" style='font-family:"Liberation Sans",sans-serif;font-size:100px' fill="#000">|</text>
<text transform="translate(926.16,178.80) scale(0.3600,0.3394)" style='font-family:"Liberation Serif",serif;font-size:100px' fill="#000">1</text>
<text transform="translate(942.75,181.11) scale(0.3818,0.3303)" style='font-family:"DejaVu Sans",sans-serif;font-size:100px' fill="#000">⟩</text>
</g></svg></body></html>
